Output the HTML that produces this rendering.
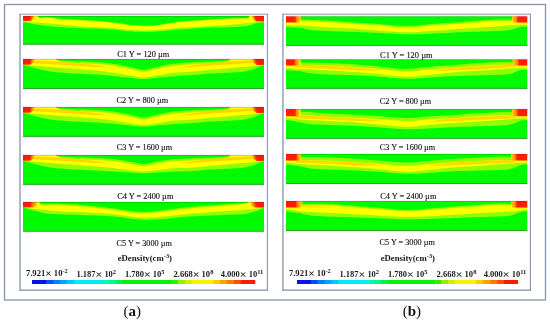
<!DOCTYPE html>
<html><head><meta charset="utf-8"><style>
html,body{margin:0;padding:0;background:#fff;width:550px;height:323px;overflow:hidden}
svg{display:block}
.lb{font-family:"Liberation Serif",serif;font-size:8.2px;fill:#111;stroke:#111;stroke-width:0.12px;text-anchor:middle}
.cb{font-family:"Liberation Serif",serif;font-size:8.6px;font-weight:bold;fill:#1a1a1a}
.sup{font-size:6px}
.x{font-weight:normal;font-size:11px;stroke:#1a1a1a;stroke-width:0.15px}
.ed{font-family:"Liberation Serif",serif;font-size:8.4px;font-weight:bold;fill:#1a1a1a;text-anchor:middle}
.ab{font-family:"Liberation Serif",serif;font-size:15px;fill:#111;text-anchor:middle}
</style></head><body>
<svg width="550" height="323" viewBox="0 0 550 323">
<defs><filter id="bl" x="-5%" y="-20%" width="110%" height="140%"><feGaussianBlur stdDeviation="0.55"/></filter></defs>
<rect x="4.5" y="4.5" width="541" height="295.5" fill="none" stroke="#8795ab" stroke-width="1.3"/>
<line x1="20.05" y1="13.7" x2="20.05" y2="290.70000000000005" stroke="#9ba7bd" stroke-width="1.6"/><line x1="19.55" y1="14.2" x2="267.95" y2="14.2" stroke="#8c98ae" stroke-width="1.0"/><line x1="267.45" y1="13.7" x2="267.45" y2="290.70000000000005" stroke="#8f9cb3" stroke-width="1.2"/><line x1="19.25" y1="290.1" x2="268.05" y2="290.1" stroke="#8190aa" stroke-width="1.3"/>
<line x1="282.95" y1="13.7" x2="282.95" y2="290.70000000000005" stroke="#9ba7bd" stroke-width="1.6"/><line x1="282.45" y1="14.2" x2="530.9" y2="14.2" stroke="#8c98ae" stroke-width="1.0"/><line x1="530.4" y1="13.7" x2="530.4" y2="290.70000000000005" stroke="#8f9cb3" stroke-width="1.2"/><line x1="282.15" y1="290.1" x2="531.0" y2="290.1" stroke="#8190aa" stroke-width="1.3"/>
<clipPath id="c0"><rect x="23" y="16" width="241.00" height="28.80"/></clipPath>
<g clip-path="url(#c0)"><g filter="url(#bl)">
<rect x="20" y="13" width="247.00" height="34.80" fill="#00fa00"/>
<polygon points="20.00,13.00 20.21,13.00 20.41,13.00 20.69,13.00 21.15,13.00 21.89,13.00 23.00,13.00 24.71,13.00 26.98,13.00 29.53,13.00 32.07,13.00 34.33,13.00 36.00,13.00 36.98,13.52 37.46,14.27 37.66,15.14 37.76,16.01 37.97,16.77 38.50,17.30 39.32,17.58 40.28,17.68 41.34,17.67 42.50,17.60 43.73,17.53 45.00,17.52 46.41,17.55 48.00,17.57 49.66,17.59 51.28,17.62 52.76,17.67 54.00,17.74 54.75,17.83 55.04,17.94 55.19,18.07 55.52,18.21 56.35,18.37 58.00,18.53 60.65,18.70 64.07,18.88 68.00,19.08 72.15,19.28 76.24,19.49 80.00,19.70 83.51,19.92 87.00,20.15 90.44,20.39 93.78,20.62 96.98,20.86 100.00,21.10 102.79,21.32 105.37,21.54 107.81,21.75 110.19,21.97 112.56,22.22 115.00,22.50 117.50,22.83 120.00,23.22 122.50,23.62 125.00,24.03 127.50,24.39 130.00,24.70 132.56,24.95 135.19,25.17 137.81,25.36 140.37,25.51 142.79,25.63 145.00,25.70 146.96,25.73 148.70,25.71 150.31,25.66 151.85,25.57 153.39,25.45 155.00,25.30 156.61,25.12 158.15,24.91 159.69,24.67 161.30,24.40 163.04,24.11 165.00,23.80 167.09,23.46 169.26,23.07 171.56,22.67 174.07,22.26 176.86,21.86 180.00,21.50 183.76,21.16 188.15,20.82 192.81,20.50 197.41,20.20 201.59,19.93 205.00,19.70 207.48,19.52 209.26,19.38 210.62,19.28 211.85,19.19 213.22,19.10 215.00,19.00 217.27,18.88 219.81,18.76 222.50,18.63 225.19,18.52 227.73,18.41 230.00,18.31 231.97,18.23 233.76,18.17 235.41,18.11 236.96,18.05 238.48,18.00 240.00,17.95 241.58,17.95 243.19,18.01 244.76,18.08 246.22,18.08 247.49,17.96 248.50,17.66 249.05,17.09 249.16,16.26 249.07,15.31 249.07,14.37 249.39,13.56 250.30,13.00 252.02,13.00 254.38,13.00 257.08,13.00 259.79,13.00 262.20,13.00 264.00,13.00 265.15,13.00 265.90,13.00 266.36,13.00 266.62,13.00 266.80,13.00 267.00,13.00 267.00,22.20 266.74,22.18 266.44,22.15 266.06,22.11 265.56,22.10 264.88,22.12 264.00,22.20 262.86,22.34 261.48,22.51 259.94,22.73 258.30,22.99 256.63,23.28 255.00,23.60 253.51,23.99 252.11,24.47 250.69,24.98 249.11,25.48 247.26,25.93 245.00,26.30 242.25,26.57 239.07,26.78 235.62,26.94 232.04,27.07 228.45,27.18 225.00,27.30 221.72,27.40 218.52,27.46 215.31,27.51 212.04,27.56 208.62,27.65 205.00,27.80 201.06,28.01 196.85,28.28 192.50,28.57 188.15,28.89 183.94,29.20 180.00,29.50 176.32,29.80 172.78,30.11 169.38,30.42 166.11,30.71 162.99,30.98 160.00,31.20 157.21,31.38 154.63,31.52 152.19,31.63 149.81,31.71 147.44,31.77 145.00,31.80 142.50,31.81 140.00,31.79 137.50,31.74 135.00,31.66 132.50,31.55 130.00,31.40 127.50,31.20 125.00,30.93 122.50,30.64 120.00,30.33 117.50,30.05 115.00,29.80 112.56,29.59 110.19,29.41 107.81,29.24 105.37,29.08 102.79,28.94 100.00,28.80 96.96,28.68 93.70,28.59 90.31,28.51 86.85,28.42 83.39,28.32 80.00,28.20 76.55,28.04 72.96,27.86 69.38,27.67 65.93,27.47 62.75,27.28 60.00,27.10 57.81,26.95 56.11,26.82 54.69,26.69 53.33,26.56 51.84,26.40 50.00,26.20 47.75,25.96 45.26,25.69 42.62,25.39 39.96,25.08 37.38,24.75 35.00,24.40 32.72,24.01 30.44,23.56 28.25,23.09 26.22,22.64 24.44,22.27 23.00,22.00 21.94,21.86 21.22,21.82 20.75,21.85 20.44,21.91 20.22,21.97 20.00,22.00" fill="#90ff00"/>
<polygon points="20.00,13.00 20.21,13.00 20.41,13.00 20.69,13.00 21.15,13.00 21.89,13.00 23.00,13.00 24.71,13.00 26.98,13.00 29.53,13.00 32.07,13.00 34.33,13.00 36.00,13.00 36.98,13.54 37.46,14.32 37.66,15.23 37.76,16.14 37.97,16.94 38.50,17.50 39.32,17.79 40.28,17.91 41.34,17.91 42.50,17.86 43.73,17.80 45.00,17.80 46.41,17.84 48.00,17.87 49.66,17.90 51.28,17.94 52.76,18.00 54.00,18.10 54.75,18.24 55.04,18.40 55.19,18.59 55.52,18.80 56.35,19.00 58.00,19.20 60.65,19.39 64.07,19.59 68.00,19.78 72.15,19.98 76.24,20.19 80.00,20.40 83.51,20.62 87.00,20.85 90.44,21.09 93.78,21.33 96.98,21.56 100.00,21.80 102.79,22.02 105.37,22.24 107.81,22.45 110.19,22.67 112.56,22.92 115.00,23.20 117.50,23.53 120.00,23.92 122.50,24.32 125.00,24.73 127.50,25.09 130.00,25.40 132.56,25.65 135.19,25.87 137.81,26.06 140.37,26.21 142.79,26.33 145.00,26.40 146.96,26.43 148.70,26.41 150.31,26.36 151.85,26.27 153.39,26.15 155.00,26.00 156.61,25.82 158.15,25.61 159.69,25.37 161.30,25.10 163.04,24.81 165.00,24.50 167.09,24.16 169.26,23.77 171.56,23.37 174.07,22.96 176.86,22.56 180.00,22.20 183.76,21.86 188.15,21.52 192.81,21.20 197.41,20.90 201.59,20.63 205.00,20.40 207.48,20.22 209.26,20.09 210.62,19.99 211.85,19.90 213.22,19.81 215.00,19.70 217.27,19.57 219.81,19.43 222.50,19.29 225.19,19.15 227.73,19.02 230.00,18.90 231.97,18.80 233.76,18.71 235.41,18.62 236.96,18.55 238.48,18.47 240.00,18.40 241.58,18.38 243.19,18.43 244.76,18.48 246.22,18.47 247.49,18.33 248.50,18.00 249.05,17.38 249.16,16.49 249.07,15.47 249.07,14.47 249.39,13.60 250.30,13.00 252.02,13.00 254.38,13.00 257.08,13.00 259.79,13.00 262.20,13.00 264.00,13.00 265.15,13.00 265.90,13.00 266.36,13.00 266.62,13.00 266.80,13.00 267.00,13.00 267.00,21.40 266.74,21.39 266.44,21.37 266.06,21.35 265.56,21.34 264.88,21.35 264.00,21.40 262.86,21.48 261.48,21.60 259.94,21.74 258.30,21.89 256.63,22.05 255.00,22.20 253.45,22.35 251.93,22.50 250.38,22.66 248.74,22.82 246.97,23.00 245.00,23.20 242.91,23.42 240.74,23.66 238.44,23.91 235.93,24.17 233.14,24.44 230.00,24.70 226.41,24.96 222.41,25.23 218.12,25.50 213.70,25.77 209.28,26.04 205.00,26.30 200.78,26.55 196.48,26.80 192.19,27.04 187.96,27.29 183.88,27.54 180.00,27.80 176.32,28.08 172.78,28.38 169.38,28.68 166.11,28.98 162.99,29.25 160.00,29.50 157.21,29.73 154.63,29.95 152.19,30.15 149.81,30.32 147.44,30.44 145.00,30.50 142.50,30.49 140.00,30.43 137.50,30.31 135.00,30.16 132.50,29.99 130.00,29.80 127.50,29.58 125.00,29.31 122.50,29.01 120.00,28.71 117.50,28.44 115.00,28.20 112.56,28.01 110.19,27.86 107.81,27.72 105.37,27.59 102.79,27.45 100.00,27.30 96.96,27.14 93.70,26.97 90.31,26.81 86.85,26.63 83.39,26.43 80.00,26.20 76.55,25.93 72.96,25.62 69.38,25.29 65.93,24.96 62.75,24.66 60.00,24.40 57.81,24.20 56.11,24.04 54.69,23.90 53.33,23.77 51.84,23.65 50.00,23.50 47.75,23.34 45.26,23.17 42.62,23.01 39.96,22.84 37.38,22.67 35.00,22.50 32.72,22.32 30.44,22.13 28.25,21.94 26.22,21.76 24.44,21.61 23.00,21.50 21.94,21.44 21.22,21.43 20.75,21.44 20.44,21.46 20.22,21.49 20.00,21.50" fill="#ffff00"/>
<linearGradient id="gl0" gradientUnits="userSpaceOnUse" x1="30.70" y1="0" x2="35.00" y2="0"><stop offset="0" stop-color="#ff4a00"/><stop offset="0.5" stop-color="#ff9a00"/><stop offset="1" stop-color="#ffd800"/></linearGradient>
<linearGradient id="gr0" gradientUnits="userSpaceOnUse" x1="255.00" y1="0" x2="251.50" y2="0"><stop offset="0" stop-color="#ff4a00"/><stop offset="0.5" stop-color="#ff9a00"/><stop offset="1" stop-color="#ffd800"/></linearGradient>
<polygon points="20.00,13.00 35.00,13.00 33.50,18.50 30.50,21.00 20.00,21.00" fill="url(#gl0)"/>
<polygon points="251.50,13.00 267.00,13.00 267.00,21.40 256.00,21.40 253.00,18.50" fill="url(#gr0)"/>
<polygon points="20.00,13.00 31.70,13.00 30.30,18.50 28.70,20.60 20.00,20.60" fill="#ff1a00"/>
<polygon points="254.00,13.00 267.00,13.00 267.00,21.00 257.00,21.00 255.50,18.50" fill="#ff1a00"/>
</g></g>
<rect x="23" y="43.80" width="241.00" height="1.0" fill="#3c8c3c" opacity="0.75"/>
<rect x="23" y="44.80" width="241.00" height="0.8" fill="#f0dcf0" opacity="0.6"/>
<rect x="23" y="16.00" width="241.00" height="0.9" fill="#000" opacity="0.14"/>
<rect x="23" y="15.10" width="241.00" height="0.9" fill="#f4e6f4" opacity="0.7"/>
<clipPath id="c1"><rect x="23" y="59" width="241.00" height="30.00"/></clipPath>
<g clip-path="url(#c1)"><g filter="url(#bl)">
<rect x="20" y="56" width="247.00" height="36.00" fill="#00fa00"/>
<polygon points="20.00,56.00 20.01,56.00 19.78,56.00 19.62,56.00 19.89,56.00 20.90,56.00 23.00,56.00 26.73,56.00 31.93,56.00 37.88,56.00 43.85,56.00 49.13,56.00 53.00,56.00 55.14,56.47 56.07,57.14 56.31,57.93 56.37,58.73 56.76,59.45 58.00,60.00 60.05,60.35 62.48,60.58 65.25,60.73 68.30,60.84 71.56,60.95 75.00,61.10 78.82,61.28 83.11,61.44 87.62,61.61 92.11,61.78 96.32,61.98 100.00,62.20 103.08,62.45 105.74,62.71 108.12,62.99 110.37,63.29 112.62,63.63 115.00,64.00 117.52,64.42 120.06,64.89 122.59,65.38 125.11,65.89 127.59,66.40 130.00,66.90 132.34,67.45 134.61,68.08 136.84,68.71 139.06,69.26 141.27,69.65 143.50,69.80 145.73,69.65 147.94,69.26 150.16,68.71 152.39,68.08 154.66,67.45 157.00,66.90 159.38,66.40 161.78,65.89 164.22,65.37 166.72,64.87 169.31,64.41 172.00,64.00 174.79,63.65 177.67,63.35 180.62,63.08 183.67,62.84 186.79,62.62 190.00,62.40 193.36,62.20 196.89,62.03 200.50,61.88 204.11,61.73 207.64,61.58 211.00,61.40 214.35,61.23 217.78,61.09 221.12,60.94 224.22,60.75 226.90,60.48 229.00,60.10 230.03,59.53 230.04,58.79 229.62,57.97 229.41,57.17 230.00,56.48 232.00,56.00 235.99,56.00 241.59,56.00 248.00,56.00 254.41,56.00 260.01,56.00 264.00,56.00 266.21,56.00 267.26,56.00 267.50,56.00 267.30,56.00 267.01,56.00 267.00,56.00 267.00,65.00 266.74,64.96 266.44,64.87 266.06,64.78 265.56,64.73 264.88,64.79 264.00,65.00 262.86,65.40 261.48,65.96 259.94,66.62 258.30,67.33 256.63,68.00 255.00,68.60 253.46,69.13 251.96,69.65 250.44,70.14 248.81,70.61 247.03,71.03 245.00,71.40 242.70,71.71 240.19,71.96 237.50,72.17 234.70,72.35 231.85,72.52 229.00,72.70 226.15,72.87 223.26,73.00 220.31,73.13 217.30,73.26 214.20,73.41 211.00,73.60 207.64,73.83 204.11,74.10 200.50,74.38 196.89,74.67 193.36,74.95 190.00,75.20 186.79,75.42 183.67,75.62 180.62,75.81 177.67,76.00 174.79,76.19 172.00,76.40 169.31,76.62 166.72,76.86 164.22,77.10 161.78,77.34 159.38,77.58 157.00,77.80 154.66,78.04 152.39,78.30 150.16,78.56 147.94,78.79 145.73,78.94 143.50,79.00 141.27,78.94 139.06,78.79 136.84,78.58 134.61,78.32 132.34,78.05 130.00,77.80 127.59,77.55 125.11,77.29 122.59,77.01 120.06,76.73 117.52,76.46 115.00,76.20 112.56,75.95 110.19,75.70 107.81,75.46 105.37,75.23 102.79,75.01 100.00,74.80 96.96,74.61 93.70,74.44 90.31,74.29 86.85,74.13 83.39,73.97 80.00,73.80 76.55,73.61 72.96,73.41 69.38,73.21 65.93,73.01 62.75,72.80 60.00,72.60 57.75,72.41 55.93,72.23 54.38,72.05 52.96,71.86 51.55,71.65 50.00,71.40 48.33,71.12 46.67,70.81 45.00,70.49 43.33,70.14 41.67,69.78 40.00,69.40 38.30,68.99 36.56,68.55 34.81,68.09 33.11,67.63 31.49,67.19 30.00,66.80 28.61,66.43 27.30,66.07 26.06,65.74 24.93,65.44 23.90,65.19 23.00,65.00 22.23,64.90 21.59,64.87 21.06,64.89 20.63,64.93 20.28,64.98 20.00,65.00" fill="#90ff00"/>
<polygon points="20.00,56.00 20.01,56.00 19.78,56.00 19.62,56.00 19.89,56.00 20.90,56.00 23.00,56.00 26.73,56.00 31.93,56.00 37.88,56.00 43.85,56.00 49.13,56.00 53.00,56.00 55.14,56.58 56.07,57.40 56.31,58.37 56.37,59.36 56.76,60.28 58.00,61.00 60.05,61.53 62.48,61.95 65.25,62.29 68.30,62.58 71.56,62.84 75.00,63.10 78.82,63.33 83.11,63.51 87.62,63.67 92.11,63.82 96.32,63.99 100.00,64.20 103.08,64.45 105.74,64.71 108.12,64.99 110.37,65.29 112.62,65.63 115.00,66.00 117.52,66.42 120.06,66.89 122.59,67.38 125.11,67.89 127.59,68.40 130.00,68.90 132.34,69.45 134.61,70.08 136.84,70.71 139.06,71.26 141.27,71.65 143.50,71.80 145.73,71.65 147.94,71.26 150.16,70.71 152.39,70.08 154.66,69.45 157.00,68.90 159.38,68.40 161.78,67.89 164.22,67.37 166.72,66.87 169.31,66.41 172.00,66.00 174.79,65.65 177.67,65.35 180.62,65.08 183.67,64.84 186.79,64.62 190.00,64.40 193.36,64.21 196.89,64.06 200.50,63.93 204.11,63.80 207.64,63.63 211.00,63.40 214.35,63.15 217.78,62.89 221.12,62.60 224.22,62.25 226.90,61.82 229.00,61.27 230.03,60.51 230.04,59.55 229.62,58.50 229.41,57.48 230.00,56.61 232.00,56.00 235.99,56.00 241.59,56.00 248.00,56.00 254.41,56.00 260.01,56.00 264.00,56.00 266.21,56.00 267.26,56.00 267.50,56.00 267.30,56.00 267.01,56.00 267.00,56.00 267.00,64.80 266.80,64.78 266.63,64.74 266.38,64.70 265.93,64.68 265.17,64.71 264.00,64.80 262.38,64.97 260.41,65.21 258.12,65.49 255.59,65.79 252.87,66.10 250.00,66.40 246.87,66.69 243.41,66.99 239.75,67.30 236.04,67.61 232.41,67.91 229.00,68.20 225.86,68.47 222.89,68.73 220.00,68.99 217.11,69.24 214.14,69.51 211.00,69.80 207.64,70.12 204.11,70.47 200.50,70.83 196.89,71.18 193.36,71.51 190.00,71.80 186.79,72.03 183.67,72.21 180.62,72.37 177.67,72.53 174.79,72.73 172.00,73.00 169.31,73.35 166.72,73.76 164.22,74.21 161.78,74.67 159.38,75.11 157.00,75.50 154.66,75.88 152.39,76.29 150.16,76.67 147.94,76.99 145.73,77.22 143.50,77.30 141.27,77.22 139.06,76.99 136.84,76.67 134.61,76.29 132.34,75.88 130.00,75.50 127.59,75.12 125.11,74.70 122.59,74.27 120.06,73.83 117.52,73.40 115.00,73.00 112.56,72.62 110.19,72.26 107.81,71.90 105.37,71.56 102.79,71.22 100.00,70.90 96.96,70.59 93.70,70.29 90.31,70.01 86.85,69.73 83.39,69.46 80.00,69.20 76.67,68.95 73.33,68.71 70.00,68.49 66.67,68.26 63.33,68.04 60.00,67.80 56.63,67.56 53.22,67.32 49.81,67.08 46.44,66.83 43.16,66.57 40.00,66.30 36.83,66.00 33.59,65.66 30.44,65.31 27.52,64.98 24.99,64.70 23.00,64.50 21.66,64.40 20.85,64.37 20.44,64.39 20.26,64.43 20.16,64.48 20.00,64.50" fill="#ffff00"/>
<polygon points="30.00,60.20 32.18,60.33 35.19,60.51 38.75,60.72 42.59,60.94 46.44,61.18 50.00,61.40 53.31,61.61 56.59,61.82 59.88,62.03 63.19,62.26 66.55,62.49 70.00,62.75 73.60,63.02 77.33,63.30 81.12,63.60 84.89,63.91 88.54,64.24 92.00,64.60 95.44,65.02 98.96,65.51 102.38,66.02 105.48,66.50 108.09,66.91 110.00,67.20 110.00,67.20 108.09,67.14 105.48,67.07 102.38,66.98 98.96,66.88 95.44,66.75 92.00,66.60 88.54,66.41 84.89,66.19 81.12,65.95 77.33,65.71 73.60,65.47 70.00,65.25 66.55,65.06 63.19,64.89 59.88,64.73 56.59,64.56 53.31,64.39 50.00,64.20 46.44,63.97 42.59,63.71 38.75,63.43 35.19,63.18 32.18,62.96 30.00,62.80" fill="#ffcc00" opacity="0.8"/>
<polygon points="178.00,67.20 179.81,66.93 182.30,66.56 185.25,66.13 188.48,65.66 191.80,65.21 195.00,64.80 198.10,64.44 201.26,64.08 204.50,63.74 207.85,63.41 211.34,63.08 215.00,62.75 218.97,62.42 223.26,62.08 227.69,61.75 232.07,61.44 236.24,61.15 240.00,60.90 243.49,60.68 246.89,60.50 250.06,60.33 252.89,60.20 255.24,60.09 257.00,60.00 257.00,62.60 255.24,62.71 252.89,62.87 250.06,63.05 246.89,63.26 243.49,63.48 240.00,63.70 236.24,63.93 232.07,64.18 227.69,64.45 223.26,64.72 218.97,64.99 215.00,65.25 211.34,65.52 207.85,65.81 204.50,66.10 201.26,66.37 198.10,66.61 195.00,66.80 191.80,66.94 188.48,67.03 185.25,67.10 182.30,67.14 179.81,67.17 178.00,67.20" fill="#ffcc00" opacity="0.8"/>
<linearGradient id="gl1" gradientUnits="userSpaceOnUse" x1="30.50" y1="0" x2="35.00" y2="0"><stop offset="0" stop-color="#ff4a00"/><stop offset="0.5" stop-color="#ff9a00"/><stop offset="1" stop-color="#ffd800"/></linearGradient>
<linearGradient id="gr1" gradientUnits="userSpaceOnUse" x1="255.60" y1="0" x2="251.50" y2="0"><stop offset="0" stop-color="#ff4a00"/><stop offset="0.5" stop-color="#ff9a00"/><stop offset="1" stop-color="#ffd800"/></linearGradient>
<polygon points="20.00,56.00 35.00,56.00 33.50,62.30 30.00,64.80 20.00,64.80" fill="url(#gl1)"/>
<polygon points="251.50,56.00 267.00,56.00 267.00,64.90 256.60,64.90 253.00,62.00" fill="url(#gr1)"/>
<polygon points="20.00,56.00 31.50,56.00 30.50,62.00 29.00,64.30 20.00,64.30" fill="#ff1a00"/>
<polygon points="254.60,56.00 267.00,56.00 267.00,64.40 257.80,64.40 256.20,61.60" fill="#ff1a00"/>
</g></g>
<rect x="23" y="88.00" width="241.00" height="1.0" fill="#3c8c3c" opacity="0.75"/>
<rect x="23" y="89.00" width="241.00" height="0.8" fill="#f0dcf0" opacity="0.6"/>
<rect x="23" y="59.00" width="241.00" height="0.9" fill="#000" opacity="0.14"/>
<rect x="23" y="58.10" width="241.00" height="0.9" fill="#f4e6f4" opacity="0.7"/>
<clipPath id="c2"><rect x="23" y="107" width="241.00" height="29.90"/></clipPath>
<g clip-path="url(#c2)"><g filter="url(#bl)">
<rect x="20" y="104" width="247.00" height="35.90" fill="#00fa00"/>
<polygon points="20.00,104.00 20.01,104.00 19.78,104.00 19.62,104.00 19.89,104.00 20.90,104.00 23.00,104.00 26.73,104.00 31.93,104.00 37.88,104.00 43.85,104.00 49.13,104.00 53.00,104.00 55.14,104.47 56.07,105.14 56.31,105.93 56.37,106.73 56.76,107.45 58.00,108.00 60.05,108.35 62.48,108.58 65.25,108.73 68.30,108.84 71.56,108.95 75.00,109.10 78.82,109.28 83.11,109.44 87.62,109.61 92.11,109.78 96.32,109.97 100.00,110.19 103.08,110.42 105.74,110.66 108.12,110.91 110.37,111.19 112.62,111.51 115.00,111.85 117.52,112.25 120.06,112.69 122.59,113.17 125.11,113.66 127.59,114.15 130.00,114.62 132.34,115.15 134.61,115.75 136.84,116.36 139.06,116.88 141.27,117.26 143.50,117.40 145.73,117.26 147.94,116.88 150.16,116.36 152.39,115.75 154.66,115.15 157.00,114.62 159.38,114.14 161.78,113.65 164.22,113.15 166.72,112.68 169.31,112.24 172.00,111.85 174.79,111.53 177.67,111.25 180.62,111.02 183.67,110.80 186.79,110.60 190.00,110.40 193.36,110.21 196.89,110.04 200.50,109.89 204.11,109.74 207.64,109.58 211.00,109.40 214.35,109.23 217.78,109.09 221.12,108.94 224.22,108.75 226.90,108.48 229.00,108.10 230.03,107.53 230.04,106.79 229.62,105.97 229.41,105.17 230.00,104.48 232.00,104.00 235.99,104.00 241.59,104.00 248.00,104.00 254.41,104.00 260.01,104.00 264.00,104.00 266.21,104.00 267.26,104.00 267.50,104.00 267.30,104.00 267.01,104.00 267.00,104.00 267.00,113.00 266.74,112.96 266.44,112.87 266.06,112.78 265.56,112.73 264.88,112.79 264.00,113.00 262.86,113.40 261.48,113.96 259.94,114.62 258.30,115.33 256.63,116.00 255.00,116.60 253.46,117.13 251.96,117.65 250.44,118.14 248.81,118.61 247.03,119.03 245.00,119.40 242.70,119.71 240.19,119.96 237.50,120.17 234.70,120.35 231.85,120.52 229.00,120.70 226.15,120.87 223.26,121.00 220.31,121.13 217.30,121.26 214.20,121.41 211.00,121.60 207.64,121.83 204.11,122.10 200.50,122.39 196.89,122.68 193.36,122.96 190.00,123.20 186.79,123.40 183.67,123.58 180.62,123.75 177.67,123.91 174.79,124.07 172.00,124.25 169.31,124.45 166.72,124.67 164.22,124.88 161.78,125.10 159.38,125.32 157.00,125.52 154.66,125.74 152.39,125.97 150.16,126.21 147.94,126.41 145.73,126.55 143.50,126.60 141.27,126.55 139.06,126.41 136.84,126.22 134.61,125.99 132.34,125.75 130.00,125.52 127.59,125.30 125.11,125.05 122.59,124.80 120.06,124.54 117.52,124.29 115.00,124.05 112.56,123.83 110.19,123.61 107.81,123.39 105.37,123.18 102.79,122.98 100.00,122.79 96.96,122.61 93.70,122.44 90.31,122.29 86.85,122.13 83.39,121.97 80.00,121.80 76.55,121.61 72.96,121.42 69.38,121.21 65.93,121.01 62.75,120.80 60.00,120.60 57.75,120.41 55.93,120.23 54.38,120.05 52.96,119.86 51.55,119.65 50.00,119.40 48.33,119.12 46.67,118.81 45.00,118.49 43.33,118.14 41.67,117.78 40.00,117.40 38.30,116.99 36.56,116.55 34.81,116.09 33.11,115.63 31.49,115.19 30.00,114.80 28.61,114.43 27.30,114.07 26.06,113.74 24.93,113.44 23.90,113.19 23.00,113.00 22.23,112.90 21.59,112.87 21.06,112.89 20.63,112.93 20.28,112.98 20.00,113.00" fill="#90ff00"/>
<polygon points="20.00,104.00 20.01,104.00 19.78,104.00 19.62,104.00 19.89,104.00 20.90,104.00 23.00,104.00 26.73,104.00 31.93,104.00 37.88,104.00 43.85,104.00 49.13,104.00 53.00,104.00 55.14,104.58 56.07,105.40 56.31,106.37 56.37,107.36 56.76,108.28 58.00,109.00 60.05,109.53 62.48,109.95 65.25,110.29 68.30,110.58 71.56,110.84 75.00,111.10 78.82,111.33 83.11,111.52 87.62,111.67 92.11,111.82 96.32,111.98 100.00,112.19 103.08,112.42 105.74,112.66 108.12,112.91 110.37,113.19 112.62,113.51 115.00,113.85 117.52,114.25 120.06,114.69 122.59,115.17 125.11,115.66 127.59,116.15 130.00,116.62 132.34,117.15 134.61,117.75 136.84,118.36 139.06,118.88 141.27,119.26 143.50,119.40 145.73,119.26 147.94,118.88 150.16,118.36 152.39,117.75 154.66,117.15 157.00,116.62 159.38,116.14 161.78,115.65 164.22,115.15 166.72,114.68 169.31,114.24 172.00,113.85 174.79,113.53 177.67,113.25 180.62,113.02 183.67,112.80 186.79,112.60 190.00,112.40 193.36,112.22 196.89,112.08 200.50,111.94 204.11,111.80 207.64,111.63 211.00,111.40 214.35,111.15 217.78,110.89 221.12,110.60 224.22,110.25 226.90,109.82 229.00,109.27 230.03,108.51 230.04,107.55 229.62,106.50 229.41,105.48 230.00,104.61 232.00,104.00 235.99,104.00 241.59,104.00 248.00,104.00 254.41,104.00 260.01,104.00 264.00,104.00 266.21,104.00 267.26,104.00 267.50,104.00 267.30,104.00 267.01,104.00 267.00,104.00 267.00,112.80 266.80,112.78 266.63,112.74 266.38,112.70 265.93,112.68 265.17,112.71 264.00,112.80 262.38,112.97 260.41,113.21 258.12,113.49 255.59,113.79 252.87,114.10 250.00,114.40 246.87,114.69 243.41,114.99 239.75,115.30 236.04,115.61 232.41,115.91 229.00,116.20 225.86,116.47 222.89,116.73 220.00,116.99 217.11,117.24 214.14,117.51 211.00,117.80 207.64,118.12 204.11,118.47 200.50,118.83 196.89,119.19 193.36,119.52 190.00,119.80 186.79,120.02 183.67,120.17 180.62,120.30 177.67,120.44 174.79,120.61 172.00,120.85 169.31,121.18 166.72,121.57 164.22,122.00 161.78,122.43 159.38,122.85 157.00,123.22 154.66,123.58 152.39,123.96 150.16,124.31 147.94,124.61 145.73,124.82 143.50,124.90 141.27,124.82 139.06,124.61 136.84,124.31 134.61,123.96 132.34,123.58 130.00,123.22 127.59,122.86 125.11,122.47 122.59,122.05 120.06,121.64 117.52,121.23 115.00,120.85 112.56,120.50 110.19,120.16 107.81,119.83 105.37,119.51 102.79,119.19 100.00,118.89 96.96,118.59 93.70,118.29 90.31,118.01 86.85,117.73 83.39,117.46 80.00,117.20 76.67,116.95 73.33,116.72 70.00,116.49 66.67,116.26 63.33,116.04 60.00,115.80 56.63,115.56 53.22,115.32 49.81,115.08 46.44,114.83 43.16,114.57 40.00,114.30 36.83,114.00 33.59,113.66 30.44,113.31 27.52,112.98 24.99,112.70 23.00,112.50 21.66,112.40 20.85,112.37 20.44,112.39 20.26,112.43 20.16,112.48 20.00,112.50" fill="#ffff00"/>
<polygon points="30.00,108.20 32.18,108.33 35.19,108.51 38.75,108.72 42.59,108.94 46.44,109.18 50.00,109.40 53.31,109.61 56.59,109.82 59.88,110.03 63.19,110.26 66.55,110.49 70.00,110.75 73.60,111.02 77.33,111.30 81.12,111.60 84.89,111.91 88.54,112.24 92.00,112.60 95.44,113.02 98.96,113.51 102.38,114.02 105.48,114.50 108.09,114.91 110.00,115.20 110.00,115.20 108.09,115.14 105.48,115.07 102.38,114.98 98.96,114.88 95.44,114.75 92.00,114.60 88.54,114.41 84.89,114.19 81.12,113.95 77.33,113.71 73.60,113.47 70.00,113.25 66.55,113.06 63.19,112.89 59.88,112.73 56.59,112.56 53.31,112.39 50.00,112.20 46.44,111.97 42.59,111.71 38.75,111.43 35.19,111.18 32.18,110.96 30.00,110.80" fill="#ffcc00" opacity="0.8"/>
<polygon points="178.00,115.20 179.81,114.93 182.30,114.56 185.25,114.13 188.48,113.66 191.80,113.21 195.00,112.80 198.10,112.44 201.26,112.08 204.50,111.74 207.85,111.41 211.34,111.08 215.00,110.75 218.97,110.42 223.26,110.08 227.69,109.75 232.07,109.44 236.24,109.15 240.00,108.90 243.49,108.68 246.89,108.50 250.06,108.33 252.89,108.20 255.24,108.09 257.00,108.00 257.00,110.60 255.24,110.71 252.89,110.87 250.06,111.05 246.89,111.26 243.49,111.48 240.00,111.70 236.24,111.93 232.07,112.18 227.69,112.45 223.26,112.72 218.97,112.99 215.00,113.25 211.34,113.52 207.85,113.81 204.50,114.10 201.26,114.37 198.10,114.61 195.00,114.80 191.80,114.94 188.48,115.03 185.25,115.10 182.30,115.14 179.81,115.17 178.00,115.20" fill="#ffcc00" opacity="0.8"/>
<linearGradient id="gl2" gradientUnits="userSpaceOnUse" x1="30.50" y1="0" x2="35.00" y2="0"><stop offset="0" stop-color="#ff4a00"/><stop offset="0.5" stop-color="#ff9a00"/><stop offset="1" stop-color="#ffd800"/></linearGradient>
<linearGradient id="gr2" gradientUnits="userSpaceOnUse" x1="255.60" y1="0" x2="251.50" y2="0"><stop offset="0" stop-color="#ff4a00"/><stop offset="0.5" stop-color="#ff9a00"/><stop offset="1" stop-color="#ffd800"/></linearGradient>
<polygon points="20.00,104.00 35.00,104.00 33.50,110.30 30.00,112.80 20.00,112.80" fill="url(#gl2)"/>
<polygon points="251.50,104.00 267.00,104.00 267.00,112.90 256.60,112.90 253.00,110.00" fill="url(#gr2)"/>
<polygon points="20.00,104.00 31.50,104.00 30.50,110.00 29.00,112.30 20.00,112.30" fill="#ff1a00"/>
<polygon points="254.60,104.00 267.00,104.00 267.00,112.40 257.80,112.40 256.20,109.60" fill="#ff1a00"/>
</g></g>
<rect x="23" y="135.90" width="241.00" height="1.0" fill="#3c8c3c" opacity="0.75"/>
<rect x="23" y="136.90" width="241.00" height="0.8" fill="#f0dcf0" opacity="0.6"/>
<rect x="23" y="107.00" width="241.00" height="0.9" fill="#000" opacity="0.14"/>
<rect x="23" y="106.10" width="241.00" height="0.9" fill="#f4e6f4" opacity="0.7"/>
<clipPath id="c3"><rect x="23" y="155" width="241.00" height="29.90"/></clipPath>
<g clip-path="url(#c3)"><g filter="url(#bl)">
<rect x="20" y="152" width="247.00" height="35.90" fill="#00fa00"/>
<polygon points="20.00,152.00 20.01,152.00 19.78,152.00 19.62,152.00 19.89,152.00 20.90,152.00 23.00,152.00 26.73,152.00 31.93,152.00 37.88,152.00 43.85,152.00 49.13,152.00 53.00,152.00 55.14,152.47 56.07,153.14 56.31,153.93 56.37,154.73 56.76,155.45 58.00,156.00 60.05,156.35 62.48,156.58 65.25,156.74 68.30,156.85 71.56,156.95 75.00,157.10 78.82,157.27 83.11,157.45 87.62,157.61 92.11,157.78 96.32,157.96 100.00,158.14 103.08,158.32 105.74,158.49 108.12,158.66 110.37,158.85 112.62,159.07 115.00,159.34 117.52,159.66 120.06,160.02 122.59,160.42 125.11,160.83 127.59,161.24 130.00,161.64 132.34,162.08 134.61,162.60 136.84,163.11 139.06,163.56 141.27,163.88 143.50,164.00 145.73,163.88 147.94,163.56 150.16,163.11 152.39,162.60 154.66,162.08 157.00,161.64 159.38,161.24 161.78,160.82 164.22,160.40 166.72,160.00 169.31,159.64 172.00,159.34 174.79,159.11 177.67,158.93 180.62,158.79 183.67,158.67 186.79,158.54 190.00,158.40 193.36,158.24 196.89,158.08 200.50,157.92 204.11,157.76 207.64,157.58 211.00,157.40 214.35,157.23 217.78,157.09 221.12,156.94 224.22,156.75 226.90,156.48 229.00,156.10 230.03,155.53 230.04,154.79 229.62,153.97 229.41,153.17 230.00,152.48 232.00,152.00 235.99,152.00 241.59,152.00 248.00,152.00 254.41,152.00 260.01,152.00 264.00,152.00 266.21,152.00 267.26,152.00 267.50,152.00 267.30,152.00 267.01,152.00 267.00,152.00 267.00,161.00 266.74,160.96 266.44,160.87 266.06,160.78 265.56,160.73 264.88,160.79 264.00,161.00 262.86,161.40 261.48,161.96 259.94,162.62 258.30,163.33 256.63,164.00 255.00,164.60 253.46,165.13 251.96,165.65 250.44,166.14 248.81,166.61 247.03,167.03 245.00,167.40 242.70,167.71 240.19,167.96 237.50,168.17 234.70,168.35 231.85,168.52 229.00,168.70 226.15,168.87 223.26,169.00 220.31,169.13 217.30,169.26 214.20,169.41 211.00,169.60 207.64,169.84 204.11,170.12 200.50,170.42 196.89,170.72 193.36,170.99 190.00,171.20 186.79,171.35 183.67,171.45 180.62,171.52 177.67,171.58 174.79,171.65 172.00,171.74 169.31,171.86 166.72,171.99 164.22,172.13 161.78,172.27 159.38,172.41 157.00,172.54 154.66,172.67 152.39,172.82 150.16,172.96 147.94,173.08 145.73,173.17 143.50,173.20 141.27,173.17 139.06,173.09 136.84,172.97 134.61,172.83 132.34,172.68 130.00,172.54 127.59,172.39 125.11,172.22 122.59,172.05 120.06,171.87 117.52,171.70 115.00,171.54 112.56,171.40 110.19,171.26 107.81,171.14 105.37,171.01 102.79,170.88 100.00,170.74 96.96,170.59 93.70,170.45 90.31,170.30 86.85,170.14 83.39,169.97 80.00,169.80 76.55,169.62 72.96,169.42 69.38,169.22 65.93,169.01 62.75,168.80 60.00,168.60 57.75,168.41 55.93,168.23 54.38,168.05 52.96,167.86 51.55,167.65 50.00,167.40 48.33,167.12 46.67,166.81 45.00,166.49 43.33,166.14 41.67,165.78 40.00,165.40 38.30,164.99 36.56,164.55 34.81,164.09 33.11,163.63 31.49,163.19 30.00,162.80 28.61,162.43 27.30,162.07 26.06,161.74 24.93,161.44 23.90,161.19 23.00,161.00 22.23,160.90 21.59,160.87 21.06,160.89 20.63,160.93 20.28,160.98 20.00,161.00" fill="#90ff00"/>
<polygon points="20.00,152.00 20.01,152.00 19.78,152.00 19.62,152.00 19.89,152.00 20.90,152.00 23.00,152.00 26.73,152.00 31.93,152.00 37.88,152.00 43.85,152.00 49.13,152.00 53.00,152.00 55.14,152.58 56.07,153.40 56.31,154.37 56.37,155.36 56.76,156.28 58.00,157.00 60.05,157.53 62.48,157.95 65.25,158.30 68.30,158.59 71.56,158.84 75.00,159.10 78.82,159.33 83.11,159.52 87.62,159.68 92.11,159.82 96.32,159.97 100.00,160.14 103.08,160.32 105.74,160.49 108.12,160.66 110.37,160.85 112.62,161.07 115.00,161.34 117.52,161.66 120.06,162.02 122.59,162.42 125.11,162.83 127.59,163.24 130.00,163.64 132.34,164.08 134.61,164.60 136.84,165.11 139.06,165.56 141.27,165.88 143.50,166.00 145.73,165.88 147.94,165.56 150.16,165.11 152.39,164.60 154.66,164.08 157.00,163.64 159.38,163.24 161.78,162.82 164.22,162.40 166.72,162.00 169.31,161.64 172.00,161.34 174.79,161.11 177.67,160.93 180.62,160.79 183.67,160.67 186.79,160.54 190.00,160.40 193.36,160.25 196.89,160.11 200.50,159.97 204.11,159.82 207.64,159.63 211.00,159.40 214.35,159.15 217.78,158.89 221.12,158.60 224.22,158.25 226.90,157.82 229.00,157.27 230.03,156.51 230.04,155.55 229.62,154.50 229.41,153.48 230.00,152.61 232.00,152.00 235.99,152.00 241.59,152.00 248.00,152.00 254.41,152.00 260.01,152.00 264.00,152.00 266.21,152.00 267.26,152.00 267.50,152.00 267.30,152.00 267.01,152.00 267.00,152.00 267.00,160.80 266.80,160.78 266.63,160.74 266.38,160.70 265.93,160.68 265.17,160.71 264.00,160.80 262.38,160.97 260.41,161.21 258.12,161.49 255.59,161.79 252.87,162.10 250.00,162.40 246.87,162.69 243.41,162.99 239.75,163.30 236.04,163.61 232.41,163.91 229.00,164.20 225.86,164.47 222.89,164.73 220.00,164.99 217.11,165.24 214.14,165.51 211.00,165.80 207.64,166.13 204.11,166.49 200.50,166.87 196.89,167.23 193.36,167.55 190.00,167.80 186.79,167.96 183.67,168.04 180.62,168.08 177.67,168.11 174.79,168.19 172.00,168.34 169.31,168.59 166.72,168.90 164.22,169.25 161.78,169.60 159.38,169.94 157.00,170.24 154.66,170.52 152.39,170.80 150.16,171.07 147.94,171.29 145.73,171.44 143.50,171.50 141.27,171.44 139.06,171.29 136.84,171.07 134.61,170.80 132.34,170.52 130.00,170.24 127.59,169.96 125.11,169.64 122.59,169.31 120.06,168.97 117.52,168.64 115.00,168.34 112.56,168.07 110.19,167.82 107.81,167.57 105.37,167.34 102.79,167.09 100.00,166.84 96.96,166.57 93.70,166.29 90.31,166.01 86.85,165.73 83.39,165.46 80.00,165.20 76.67,164.95 73.33,164.72 70.00,164.49 66.67,164.27 63.33,164.04 60.00,163.80 56.63,163.56 53.22,163.32 49.81,163.07 46.44,162.83 43.16,162.57 40.00,162.30 36.83,162.00 33.59,161.66 30.44,161.31 27.52,160.98 24.99,160.70 23.00,160.50 21.66,160.40 20.85,160.37 20.44,160.39 20.26,160.43 20.16,160.48 20.00,160.50" fill="#ffff00"/>
<polygon points="30.00,156.20 32.18,156.33 35.19,156.51 38.75,156.72 42.59,156.94 46.44,157.18 50.00,157.40 53.31,157.61 56.59,157.82 59.88,158.03 63.19,158.26 66.55,158.49 70.00,158.75 73.60,159.02 77.33,159.30 81.12,159.60 84.89,159.91 88.54,160.24 92.00,160.60 95.44,161.02 98.96,161.51 102.38,162.02 105.48,162.50 108.09,162.91 110.00,163.20 110.00,163.20 108.09,163.14 105.48,163.07 102.38,162.98 98.96,162.88 95.44,162.75 92.00,162.60 88.54,162.41 84.89,162.19 81.12,161.95 77.33,161.71 73.60,161.47 70.00,161.25 66.55,161.06 63.19,160.89 59.88,160.73 56.59,160.56 53.31,160.39 50.00,160.20 46.44,159.97 42.59,159.71 38.75,159.43 35.19,159.18 32.18,158.96 30.00,158.80" fill="#ffcc00" opacity="0.8"/>
<polygon points="178.00,163.20 179.81,162.93 182.30,162.56 185.25,162.13 188.48,161.66 191.80,161.21 195.00,160.80 198.10,160.44 201.26,160.08 204.50,159.74 207.85,159.41 211.34,159.08 215.00,158.75 218.97,158.42 223.26,158.08 227.69,157.75 232.07,157.44 236.24,157.15 240.00,156.90 243.49,156.68 246.89,156.50 250.06,156.33 252.89,156.20 255.24,156.09 257.00,156.00 257.00,158.60 255.24,158.71 252.89,158.87 250.06,159.05 246.89,159.26 243.49,159.48 240.00,159.70 236.24,159.93 232.07,160.18 227.69,160.45 223.26,160.72 218.97,160.99 215.00,161.25 211.34,161.52 207.85,161.81 204.50,162.10 201.26,162.37 198.10,162.61 195.00,162.80 191.80,162.94 188.48,163.03 185.25,163.10 182.30,163.14 179.81,163.17 178.00,163.20" fill="#ffcc00" opacity="0.8"/>
<linearGradient id="gl3" gradientUnits="userSpaceOnUse" x1="30.50" y1="0" x2="35.00" y2="0"><stop offset="0" stop-color="#ff4a00"/><stop offset="0.5" stop-color="#ff9a00"/><stop offset="1" stop-color="#ffd800"/></linearGradient>
<linearGradient id="gr3" gradientUnits="userSpaceOnUse" x1="255.60" y1="0" x2="251.50" y2="0"><stop offset="0" stop-color="#ff4a00"/><stop offset="0.5" stop-color="#ff9a00"/><stop offset="1" stop-color="#ffd800"/></linearGradient>
<polygon points="20.00,152.00 35.00,152.00 33.50,158.30 30.00,160.80 20.00,160.80" fill="url(#gl3)"/>
<polygon points="251.50,152.00 267.00,152.00 267.00,160.90 256.60,160.90 253.00,158.00" fill="url(#gr3)"/>
<polygon points="20.00,152.00 31.50,152.00 30.50,158.00 29.00,160.30 20.00,160.30" fill="#ff1a00"/>
<polygon points="254.60,152.00 267.00,152.00 267.00,160.40 257.80,160.40 256.20,157.60" fill="#ff1a00"/>
</g></g>
<rect x="23" y="183.90" width="241.00" height="1.0" fill="#3c8c3c" opacity="0.75"/>
<rect x="23" y="184.90" width="241.00" height="0.8" fill="#f0dcf0" opacity="0.6"/>
<rect x="23" y="155.00" width="241.00" height="0.9" fill="#000" opacity="0.14"/>
<rect x="23" y="154.10" width="241.00" height="0.9" fill="#f4e6f4" opacity="0.7"/>
<clipPath id="c4"><rect x="23" y="202" width="241.00" height="29.80"/></clipPath>
<g clip-path="url(#c4)"><g filter="url(#bl)">
<rect x="20" y="199" width="247.00" height="35.80" fill="#00fa00"/>
<polygon points="20.00,199.00 20.18,199.00 20.31,199.00 20.53,199.00 20.96,199.00 21.74,199.00 23.00,199.00 25.02,199.00 27.74,199.00 30.81,199.00 33.87,199.00 36.55,199.00 38.50,199.00 39.47,199.53 39.70,200.29 39.56,201.18 39.41,202.07 39.60,202.85 40.50,203.40 42.11,203.68 44.13,203.78 46.50,203.77 49.15,203.71 52.00,203.66 55.00,203.70 58.22,203.80 61.74,203.91 65.47,204.03 69.31,204.18 73.19,204.37 77.00,204.60 80.91,204.90 85.04,205.27 89.19,205.67 93.19,206.08 96.85,206.46 100.00,206.80 102.49,207.07 104.44,207.30 106.06,207.51 107.56,207.72 109.13,207.94 111.00,208.20 113.21,208.51 115.59,208.85 118.06,209.21 120.52,209.56 122.86,209.90 125.00,210.20 126.92,210.47 128.69,210.71 130.34,210.94 131.93,211.15 133.47,211.34 135.00,211.50 136.50,211.64 137.94,211.76 139.34,211.86 140.72,211.94 142.10,211.98 143.50,212.00 144.86,211.99 146.14,211.95 147.42,211.88 148.78,211.79 150.28,211.66 152.00,211.50 153.88,211.31 155.84,211.09 157.96,210.84 160.27,210.56 162.83,210.25 165.70,209.90 168.98,209.49 172.64,209.02 176.55,208.51 180.59,208.00 184.61,207.52 188.50,207.10 192.26,206.74 196.00,206.42 199.74,206.12 203.47,205.85 207.22,205.58 211.00,205.30 214.92,205.01 219.00,204.73 223.09,204.44 227.06,204.17 230.74,203.92 234.00,203.70 236.86,203.54 239.44,203.46 241.75,203.39 243.78,203.29 245.53,203.11 247.00,202.80 247.95,202.29 248.33,201.61 248.44,200.84 248.56,200.09 248.98,199.45 250.00,199.00 251.82,199.00 254.26,199.00 257.00,199.00 259.74,199.00 262.18,199.00 264.00,199.00 265.17,199.00 265.93,199.00 266.38,199.00 266.63,199.00 266.80,199.00 267.00,199.00 267.00,208.00 266.74,207.96 266.44,207.87 266.06,207.78 265.56,207.73 264.88,207.79 264.00,208.00 262.86,208.41 261.48,208.98 259.94,209.65 258.30,210.36 256.63,211.03 255.00,211.60 253.40,212.09 251.78,212.56 250.12,212.99 248.44,213.38 246.74,213.72 245.00,214.00 243.36,214.20 241.85,214.32 240.31,214.39 238.59,214.44 236.54,214.50 234.00,214.60 230.86,214.73 227.22,214.87 223.25,215.02 219.11,215.17 214.97,215.33 211.00,215.50 207.17,215.66 203.33,215.81 199.50,215.96 195.67,216.14 191.83,216.34 188.00,216.60 183.99,216.94 179.78,217.35 175.56,217.79 171.56,218.23 167.97,218.61 165.00,218.90 162.86,219.08 161.43,219.17 160.41,219.22 159.52,219.24 158.48,219.26 157.00,219.30 155.07,219.39 152.91,219.50 150.59,219.61 148.20,219.69 145.81,219.73 143.50,219.70 141.31,219.59 139.20,219.43 137.09,219.21 134.91,218.96 132.57,218.69 130.00,218.40 127.29,218.07 124.52,217.70 121.59,217.29 118.43,216.89 114.92,216.52 111.00,216.20 106.52,215.94 101.52,215.72 96.19,215.53 90.70,215.36 85.25,215.18 80.00,215.00 74.71,214.82 69.19,214.65 63.69,214.49 58.48,214.31 53.83,214.12 50.00,213.90 47.18,213.65 45.19,213.38 43.75,213.09 42.59,212.78 41.44,212.45 40.00,212.10 38.30,211.72 36.56,211.30 34.81,210.86 33.11,210.42 31.49,210.00 30.00,209.60 28.61,209.21 27.30,208.82 26.06,208.44 24.93,208.10 23.90,207.81 23.00,207.60 22.23,207.48 21.59,207.45 21.06,207.47 20.63,207.53 20.28,207.58 20.00,207.60" fill="#90ff00"/>
<polygon points="20.00,199.00 20.18,199.00 20.31,199.00 20.53,199.00 20.96,199.00 21.74,199.00 23.00,199.00 25.02,199.00 27.74,199.00 30.81,199.00 33.87,199.00 36.55,199.00 38.50,199.00 39.47,199.67 39.70,200.65 39.56,201.79 39.41,202.94 39.60,203.94 40.50,204.65 42.11,205.03 44.13,205.20 46.50,205.22 49.15,205.18 52.00,205.15 55.00,205.20 58.22,205.31 61.74,205.43 65.47,205.55 69.31,205.69 73.19,205.87 77.00,206.10 80.91,206.40 85.04,206.77 89.19,207.17 93.19,207.58 96.85,207.96 100.00,208.30 102.49,208.57 104.44,208.80 106.06,209.01 107.56,209.22 109.13,209.44 111.00,209.70 113.21,210.01 115.59,210.35 118.06,210.71 120.52,211.06 122.86,211.40 125.00,211.70 126.92,211.97 128.69,212.21 130.34,212.44 131.93,212.65 133.47,212.84 135.00,213.00 136.50,213.14 137.94,213.26 139.34,213.36 140.72,213.44 142.10,213.48 143.50,213.50 144.86,213.49 146.14,213.45 147.42,213.38 148.78,213.29 150.28,213.16 152.00,213.00 153.88,212.81 155.84,212.59 157.96,212.34 160.27,212.06 162.83,211.75 165.70,211.40 168.98,210.99 172.64,210.52 176.55,210.01 180.59,209.50 184.61,209.02 188.50,208.60 192.26,208.24 196.00,207.92 199.74,207.62 203.47,207.35 207.22,207.08 211.00,206.80 214.92,206.53 219.00,206.26 223.09,206.01 227.06,205.75 230.74,205.48 234.00,205.20 236.86,204.93 239.44,204.68 241.75,204.42 243.78,204.12 245.53,203.76 247.00,203.30 247.95,202.67 248.33,201.89 248.44,201.03 248.56,200.20 248.98,199.50 250.00,199.00 251.82,199.00 254.26,199.00 257.00,199.00 259.74,199.00 262.18,199.00 264.00,199.00 265.17,199.00 265.93,199.00 266.38,199.00 266.63,199.00 266.80,199.00 267.00,199.00 267.00,207.50 266.80,207.48 266.63,207.43 266.38,207.38 265.93,207.36 265.17,207.39 264.00,207.50 262.33,207.72 260.22,208.02 257.81,208.38 255.22,208.76 252.58,209.11 250.00,209.40 247.53,209.62 245.07,209.81 242.56,209.97 239.93,210.13 237.09,210.30 234.00,210.50 230.57,210.74 226.85,210.99 222.94,211.26 218.93,211.53 214.91,211.82 211.00,212.10 207.17,212.38 203.33,212.66 199.50,212.94 195.67,213.24 191.83,213.56 188.00,213.90 183.99,214.30 179.78,214.75 175.56,215.22 171.56,215.68 167.97,216.09 165.00,216.40 162.86,216.61 161.43,216.74 160.41,216.81 159.52,216.86 158.48,216.92 157.00,217.00 155.07,217.13 152.91,217.30 150.59,217.47 148.20,217.61 145.81,217.70 143.50,217.70 141.31,217.61 139.20,217.46 137.09,217.25 134.91,217.00 132.57,216.71 130.00,216.40 127.29,216.04 124.52,215.63 121.59,215.18 118.43,214.73 114.92,214.29 111.00,213.90 106.40,213.55 101.15,213.21 95.56,212.90 89.96,212.61 84.67,212.34 80.00,212.10 76.03,211.91 72.52,211.77 69.31,211.65 66.26,211.53 63.21,211.39 60.00,211.20 56.63,210.96 53.22,210.68 49.81,210.38 46.44,210.06 43.16,209.73 40.00,209.40 36.83,209.04 33.59,208.64 30.44,208.24 27.52,207.86 24.99,207.53 23.00,207.30 21.66,207.18 20.85,207.14 20.44,207.17 20.26,207.22 20.16,207.28 20.00,207.30" fill="#ffff00"/>
<linearGradient id="gl4" gradientUnits="userSpaceOnUse" x1="30.50" y1="0" x2="38.00" y2="0"><stop offset="0" stop-color="#ff4a00"/><stop offset="0.5" stop-color="#ff9a00"/><stop offset="1" stop-color="#ffd800"/></linearGradient>
<linearGradient id="gr4" gradientUnits="userSpaceOnUse" x1="255.50" y1="0" x2="249.80" y2="0"><stop offset="0" stop-color="#ff4a00"/><stop offset="0.5" stop-color="#ff9a00"/><stop offset="1" stop-color="#ffd800"/></linearGradient>
<polygon points="20.00,199.00 38.00,199.00 37.00,205.00 33.00,207.40 20.00,207.40" fill="url(#gl4)"/>
<polygon points="249.80,199.00 267.00,199.00 267.00,207.60 255.00,207.60 251.00,205.00" fill="url(#gr4)"/>
<polygon points="20.00,199.00 31.50,199.00 31.00,205.00 30.00,207.00 20.00,207.00" fill="#ff1a00"/>
<polygon points="254.50,199.00 267.00,199.00 267.00,207.20 257.00,207.20 255.50,204.50" fill="#ff1a00"/>
</g></g>
<rect x="23" y="230.80" width="241.00" height="1.0" fill="#3c8c3c" opacity="0.75"/>
<rect x="23" y="231.80" width="241.00" height="0.8" fill="#f0dcf0" opacity="0.6"/>
<rect x="23" y="202.00" width="241.00" height="0.9" fill="#000" opacity="0.14"/>
<rect x="23" y="201.10" width="241.00" height="0.9" fill="#f4e6f4" opacity="0.7"/>
<clipPath id="c5"><rect x="286" y="16.2" width="241.30" height="29.70"/></clipPath>
<g clip-path="url(#c5)"><g filter="url(#bl)">
<rect x="283" y="13.2" width="247.30" height="35.70" fill="#00fa00"/>
<polygon points="283.00,13.20 283.20,13.20 283.36,13.20 283.61,13.20 284.06,13.20 284.82,13.20 286.00,13.20 287.88,13.20 290.43,13.20 293.29,13.20 296.10,13.20 298.53,13.20 300.20,13.20 300.80,19.70 301.13,19.69 301.41,19.67 301.82,19.64 302.56,19.63 303.79,19.65 305.70,19.70 308.47,19.79 311.99,19.91 316.00,20.05 320.26,20.21 324.51,20.40 328.50,20.60 332.26,20.83 336.00,21.08 339.74,21.36 343.47,21.64 347.22,21.93 351.00,22.20 354.70,22.45 358.31,22.70 361.93,22.94 365.67,23.19 369.66,23.45 374.00,23.75 378.89,24.11 384.28,24.56 389.91,25.02 395.53,25.43 400.88,25.75 405.70,25.90 409.92,25.87 413.72,25.68 417.26,25.39 420.67,25.05 424.10,24.70 427.70,24.39 431.46,24.12 435.25,23.84 439.07,23.55 442.89,23.26 446.71,22.97 450.50,22.69 454.26,22.42 458.00,22.15 461.74,21.89 465.47,21.62 469.22,21.36 473.00,21.10 476.91,20.83 480.98,20.54 485.06,20.25 489.02,19.99 492.71,19.76 496.00,19.60 498.92,19.51 501.58,19.49 503.98,19.51 506.10,19.54 507.94,19.58 509.50,19.60 510.69,19.60 511.51,19.60 512.04,19.60 512.39,19.60 512.65,19.60 512.90,19.60 513.50,13.20 515.13,13.20 517.48,13.20 520.21,13.20 522.99,13.20 525.47,13.20 527.30,13.20 528.46,13.20 529.21,13.20 529.66,13.20 529.92,13.20 530.10,13.20 530.30,13.20 530.30,26.50 530.02,26.49 529.68,26.48 529.26,26.46 528.73,26.46 528.08,26.47 527.30,26.50 526.36,26.54 525.29,26.56 524.09,26.61 522.79,26.69 521.42,26.84 520.00,27.07 518.54,27.43 517.01,27.91 515.42,28.45 513.73,28.99 511.93,29.50 510.00,29.90 508.00,30.20 505.96,30.44 503.81,30.63 501.48,30.80 498.90,30.95 496.00,31.10 492.69,31.24 489.00,31.36 485.06,31.47 481.00,31.57 476.94,31.68 473.00,31.80 469.17,31.93 465.33,32.07 461.50,32.22 457.67,32.37 453.83,32.52 450.00,32.69 446.15,32.88 442.27,33.10 438.39,33.32 434.54,33.54 430.73,33.73 427.00,33.89 423.47,34.03 420.16,34.16 416.89,34.28 413.51,34.35 409.83,34.36 405.70,34.30 400.92,34.14 395.58,33.87 389.96,33.55 384.31,33.21 378.90,32.90 374.00,32.65 369.66,32.46 365.69,32.30 361.96,32.16 358.34,32.04 354.73,31.92 351.00,31.80 347.11,31.68 343.15,31.57 339.19,31.47 335.30,31.36 331.54,31.24 328.00,31.10 324.62,30.94 321.33,30.77 318.19,30.59 315.22,30.39 312.48,30.16 310.00,29.90 307.87,29.57 306.07,29.17 304.50,28.75 303.04,28.34 301.57,27.97 300.00,27.70 298.26,27.53 296.44,27.43 294.62,27.38 292.89,27.36 291.32,27.34 290.00,27.30 288.97,27.24 288.19,27.18 287.56,27.12 287.04,27.07 286.54,27.03 286.00,27.00 285.41,26.98 284.81,26.98 284.25,26.98 283.74,26.99 283.31,27.00 283.00,27.00" fill="#90ff00"/>
<polygon points="283.00,13.20 283.20,13.20 283.36,13.20 283.61,13.20 284.06,13.20 284.82,13.20 286.00,13.20 287.88,13.20 290.43,13.20 293.29,13.20 296.10,13.20 298.53,13.20 300.20,13.20 300.80,21.20 301.13,21.19 301.41,21.17 301.82,21.14 302.56,21.13 303.79,21.15 305.70,21.20 308.47,21.29 311.99,21.41 316.00,21.55 320.26,21.71 324.51,21.90 328.50,22.10 332.26,22.33 336.00,22.58 339.74,22.86 343.47,23.14 347.22,23.43 351.00,23.70 354.70,23.95 358.31,24.20 361.93,24.44 365.67,24.69 369.66,24.95 374.00,25.25 378.89,25.61 384.28,26.06 389.91,26.52 395.53,26.93 400.88,27.25 405.70,27.40 409.92,27.37 413.72,27.18 417.26,26.89 420.67,26.55 424.10,26.20 427.70,25.89 431.46,25.62 435.25,25.34 439.07,25.05 442.89,24.76 446.71,24.47 450.50,24.19 454.26,23.92 458.00,23.65 461.74,23.39 465.47,23.12 469.22,22.86 473.00,22.60 476.91,22.33 480.98,22.04 485.06,21.75 489.02,21.49 492.71,21.26 496.00,21.10 498.92,21.01 501.58,20.99 503.98,21.01 506.10,21.04 507.94,21.08 509.50,21.10 510.69,21.10 511.51,21.10 512.04,21.10 512.39,21.10 512.65,21.10 512.90,21.10 513.50,13.20 515.13,13.20 517.48,13.20 520.21,13.20 522.99,13.20 525.47,13.20 527.30,13.20 528.46,13.20 529.21,13.20 529.66,13.20 529.92,13.20 530.10,13.20 530.30,13.20 530.30,24.80 530.08,24.80 529.87,24.79 529.57,24.79 529.10,24.79 528.37,24.79 527.30,24.80 525.87,24.81 524.14,24.81 522.15,24.81 519.94,24.84 517.55,24.89 515.00,25.00 512.27,25.16 509.31,25.37 506.17,25.61 502.88,25.87 499.48,26.14 496.00,26.40 492.40,26.65 488.63,26.92 484.75,27.19 480.81,27.46 476.88,27.73 473.00,28.00 469.17,28.27 465.33,28.54 461.50,28.81 457.67,29.08 453.83,29.35 450.00,29.62 446.15,29.89 442.27,30.16 438.39,30.43 434.54,30.69 430.73,30.94 427.00,31.17 423.47,31.42 420.16,31.69 416.89,31.95 413.51,32.16 409.83,32.29 405.70,32.29 400.92,32.14 395.58,31.87 389.96,31.50 384.31,31.10 378.90,30.70 374.00,30.34 369.66,30.00 365.69,29.66 361.96,29.32 358.34,28.98 354.73,28.67 351.00,28.40 347.16,28.17 343.31,27.99 339.46,27.83 335.61,27.67 331.79,27.50 328.00,27.30 324.17,27.05 320.27,26.76 316.39,26.46 312.62,26.16 309.03,25.90 305.70,25.70 302.57,25.56 299.54,25.47 296.71,25.42 294.12,25.38 291.86,25.35 290.00,25.30 288.64,25.24 287.76,25.18 287.21,25.12 286.83,25.07 286.47,25.03 286.00,25.00 285.41,24.98 284.81,24.98 284.25,24.98 283.74,24.99 283.31,25.00 283.00,25.00" fill="#ffff00"/>
<linearGradient id="gl5" gradientUnits="userSpaceOnUse" x1="294.50" y1="0" x2="301.00" y2="0"><stop offset="0" stop-color="#ff4a00"/><stop offset="0.5" stop-color="#ff9a00"/><stop offset="1" stop-color="#ffd800"/></linearGradient>
<linearGradient id="gr5" gradientUnits="userSpaceOnUse" x1="518.50" y1="0" x2="512.00" y2="0"><stop offset="0" stop-color="#ff4a00"/><stop offset="0.5" stop-color="#ff9a00"/><stop offset="1" stop-color="#ffd800"/></linearGradient>
<polygon points="283.00,13.20 301.00,13.20 301.00,20.00 299.50,22.60 283.00,22.60" fill="url(#gl5)"/>
<polygon points="512.00,13.20 530.30,13.20 530.30,22.60 513.50,22.60 512.00,20.00" fill="url(#gr5)"/>
<polygon points="283.00,13.20 295.50,13.20 295.50,22.20 283.00,22.20" fill="#ff1a00"/>
<polygon points="517.50,13.20 530.30,13.20 530.30,22.20 517.50,22.20" fill="#ff1a00"/>
</g></g>
<rect x="286" y="44.90" width="241.30" height="1.0" fill="#3c8c3c" opacity="0.75"/>
<rect x="286" y="45.90" width="241.30" height="0.8" fill="#f0dcf0" opacity="0.6"/>
<rect x="286" y="16.20" width="241.30" height="0.9" fill="#000" opacity="0.14"/>
<rect x="286" y="15.30" width="241.30" height="0.9" fill="#f4e6f4" opacity="0.7"/>
<clipPath id="c6"><rect x="286" y="59.2" width="241.30" height="29.70"/></clipPath>
<g clip-path="url(#c6)"><g filter="url(#bl)">
<rect x="283" y="56.2" width="247.30" height="35.70" fill="#00fa00"/>
<polygon points="283.00,56.20 283.20,56.20 283.36,56.20 283.61,56.20 284.06,56.20 284.82,56.20 286.00,56.20 287.88,56.20 290.43,56.20 293.29,56.20 296.10,56.20 298.53,56.20 300.20,56.20 300.80,62.60 301.13,62.60 301.41,62.59 301.82,62.57 302.56,62.57 303.79,62.58 305.70,62.60 308.47,62.64 311.99,62.68 316.00,62.73 320.26,62.80 324.51,62.89 328.50,63.00 332.26,63.13 336.00,63.29 339.74,63.46 343.47,63.65 347.22,63.86 351.00,64.10 354.70,64.36 358.31,64.63 361.93,64.93 365.67,65.25 369.66,65.60 374.00,65.98 378.89,66.46 384.28,67.06 389.91,67.68 395.53,68.24 400.88,68.68 405.70,68.89 409.92,68.85 413.74,68.60 417.29,68.22 420.70,67.77 424.13,67.33 427.70,66.96 431.39,66.66 435.09,66.36 438.79,66.07 442.50,65.78 446.24,65.49 450.00,65.21 453.79,64.93 457.61,64.66 461.46,64.38 465.31,64.12 469.16,63.85 473.00,63.60 476.94,63.34 481.00,63.07 485.06,62.80 489.00,62.56 492.69,62.35 496.00,62.20 498.98,62.12 501.74,62.10 504.26,62.11 506.49,62.15 508.41,62.18 510.00,62.20 511.16,62.20 511.90,62.20 512.33,62.20 512.56,62.20 512.71,62.20 512.90,62.20 513.50,56.20 515.13,56.20 517.48,56.20 520.21,56.20 522.99,56.20 525.47,56.20 527.30,56.20 528.46,56.20 529.21,56.20 529.66,56.20 529.92,56.20 530.10,56.20 530.30,56.20 530.30,70.00 530.02,70.00 529.68,69.99 529.26,69.99 528.73,69.99 528.08,69.99 527.30,70.00 526.36,69.98 525.29,69.92 524.09,69.86 522.79,69.85 521.42,69.95 520.00,70.19 518.54,70.65 517.01,71.30 515.42,72.05 513.73,72.81 511.93,73.49 510.00,74.00 508.00,74.32 505.96,74.52 503.81,74.64 501.48,74.72 498.90,74.80 496.00,74.90 492.69,75.03 489.00,75.15 485.06,75.26 481.00,75.37 476.94,75.49 473.00,75.60 469.17,75.71 465.33,75.80 461.50,75.90 457.67,76.00 453.83,76.13 450.00,76.29 446.15,76.50 442.27,76.75 438.39,77.02 434.54,77.30 430.73,77.56 427.00,77.79 423.47,78.03 420.16,78.30 416.89,78.55 413.51,78.75 409.83,78.85 405.70,78.80 400.92,78.57 395.58,78.16 389.96,77.65 384.31,77.12 378.90,76.63 374.00,76.25 369.66,75.98 365.69,75.77 361.96,75.61 358.34,75.47 354.73,75.34 351.00,75.20 347.11,75.07 343.15,74.96 339.19,74.86 335.30,74.76 331.54,74.64 328.00,74.50 324.62,74.34 321.33,74.17 318.19,73.99 315.22,73.79 312.48,73.56 310.00,73.30 307.87,72.97 306.07,72.58 304.50,72.16 303.04,71.75 301.57,71.39 300.00,71.10 298.26,70.90 296.44,70.77 294.62,70.68 292.89,70.62 291.32,70.56 290.00,70.50 288.97,70.43 288.19,70.37 287.56,70.31 287.04,70.27 286.54,70.23 286.00,70.20 285.41,70.18 284.81,70.18 284.25,70.18 283.74,70.19 283.31,70.20 283.00,70.20" fill="#90ff00"/>
<polygon points="283.00,56.20 283.20,56.20 283.36,56.20 283.61,56.20 284.06,56.20 284.82,56.20 286.00,56.20 287.88,56.20 290.43,56.20 293.29,56.20 296.10,56.20 298.53,56.20 300.20,56.20 300.80,65.20 301.13,65.20 301.41,65.19 301.82,65.18 302.56,65.17 303.79,65.18 305.70,65.20 308.47,65.24 311.99,65.28 316.00,65.33 320.26,65.40 324.51,65.49 328.50,65.60 332.26,65.73 336.00,65.89 339.74,66.06 343.47,66.25 347.22,66.46 351.00,66.70 354.70,66.96 358.31,67.23 361.93,67.53 365.67,67.85 369.66,68.20 374.00,68.58 378.89,69.06 384.28,69.66 389.91,70.28 395.53,70.84 400.88,71.28 405.70,71.49 409.92,71.45 413.74,71.20 417.29,70.82 420.70,70.37 424.13,69.93 427.70,69.56 431.39,69.26 435.09,68.96 438.79,68.67 442.50,68.38 446.24,68.09 450.00,67.81 453.79,67.53 457.61,67.26 461.46,66.98 465.31,66.72 469.16,66.45 473.00,66.20 476.94,65.94 481.00,65.67 485.06,65.40 489.00,65.16 492.69,64.95 496.00,64.80 498.98,64.72 501.74,64.70 504.26,64.71 506.49,64.75 508.41,64.78 510.00,64.80 511.16,64.80 511.90,64.80 512.33,64.80 512.56,64.80 512.71,64.80 512.90,64.80 513.50,56.20 515.13,56.20 517.48,56.20 520.21,56.20 522.99,56.20 525.47,56.20 527.30,56.20 528.46,56.20 529.21,56.20 529.66,56.20 529.92,56.20 530.10,56.20 530.30,56.20 530.30,68.20 530.08,68.20 529.87,68.21 529.57,68.21 529.10,68.21 528.37,68.21 527.30,68.20 525.87,68.16 524.14,68.09 522.15,68.01 519.94,67.96 517.55,67.94 515.00,68.00 512.27,68.14 509.31,68.34 506.17,68.59 502.88,68.86 499.48,69.14 496.00,69.40 492.40,69.65 488.63,69.92 484.75,70.18 480.81,70.46 476.88,70.73 473.00,71.00 469.17,71.26 465.33,71.52 461.50,71.77 457.67,72.04 453.83,72.33 450.00,72.65 446.15,73.02 442.27,73.44 438.39,73.88 434.54,74.32 430.73,74.74 427.00,75.11 423.47,75.49 420.16,75.91 416.89,76.30 413.51,76.61 409.83,76.79 405.70,76.77 400.92,76.50 395.58,76.01 389.96,75.38 384.31,74.71 378.90,74.07 374.00,73.56 369.66,73.16 365.69,72.82 361.96,72.51 358.34,72.23 354.73,71.97 351.00,71.70 347.17,71.44 343.33,71.19 339.50,70.95 335.67,70.73 331.83,70.51 328.00,70.30 324.07,70.10 320.04,69.90 316.00,69.72 312.07,69.54 308.37,69.37 305.00,69.20 301.91,69.03 299.00,68.86 296.31,68.70 293.89,68.55 291.77,68.41 290.00,68.30 288.69,68.21 287.81,68.14 287.25,68.09 286.85,68.06 286.48,68.03 286.00,68.00 285.41,67.98 284.81,67.98 284.25,67.98 283.74,67.99 283.31,68.00 283.00,68.00" fill="#ffff00"/>
<polygon points="295.00,64.20 295.25,64.21 295.37,64.20 295.62,64.20 296.30,64.22 297.66,64.28 300.00,64.40 303.55,64.58 308.15,64.82 313.44,65.10 319.07,65.40 324.71,65.71 330.00,66.00 335.06,66.28 340.19,66.55 345.31,66.82 350.37,67.12 355.29,67.44 360.00,67.80 364.75,68.24 369.63,68.76 374.38,69.31 378.70,69.84 382.34,70.28 385.00,70.60 385.00,70.60 382.34,70.59 378.70,70.59 374.38,70.59 369.63,70.56 364.75,70.51 360.00,70.40 355.29,70.24 350.37,70.03 345.31,69.79 340.19,69.53 335.06,69.26 330.00,69.00 324.71,68.73 319.07,68.43 313.44,68.13 308.15,67.84 303.55,67.59 300.00,67.40 297.66,67.28 296.30,67.22 295.62,67.20 295.37,67.20 295.25,67.21 295.00,67.20" fill="#ffcc00" opacity="0.75"/>
<polygon points="428.00,70.90 430.30,70.57 433.41,70.10 437.12,69.56 441.26,68.99 445.62,68.45 450.00,68.00 454.65,67.64 459.78,67.33 465.12,67.06 470.44,66.80 475.49,66.55 480.00,66.30 483.97,66.05 487.59,65.80 490.94,65.56 494.07,65.33 497.07,65.11 500.00,64.90 502.96,64.69 505.93,64.47 508.75,64.26 511.30,64.07 513.43,63.92 515.00,63.80 515.00,66.80 513.43,66.92 511.30,67.07 508.75,67.26 505.93,67.47 502.96,67.69 500.00,67.90 497.07,68.12 494.07,68.35 490.94,68.59 487.59,68.83 483.97,69.07 480.00,69.30 475.49,69.53 470.44,69.78 465.12,70.02 459.78,70.24 454.65,70.44 450.00,70.60 445.62,70.71 441.26,70.79 437.12,70.83 433.41,70.86 430.30,70.88 428.00,70.90" fill="#ffcc00" opacity="0.75"/>
<linearGradient id="gl6" gradientUnits="userSpaceOnUse" x1="293.60" y1="0" x2="300.00" y2="0"><stop offset="0" stop-color="#ff4a00"/><stop offset="0.5" stop-color="#ff9a00"/><stop offset="1" stop-color="#ffd800"/></linearGradient>
<linearGradient id="gr6" gradientUnits="userSpaceOnUse" x1="519.60" y1="0" x2="512.50" y2="0"><stop offset="0" stop-color="#ff4a00"/><stop offset="0.5" stop-color="#ff9a00"/><stop offset="1" stop-color="#ffd800"/></linearGradient>
<polygon points="283.00,56.20 300.00,56.20 300.00,63.00 298.50,65.60 283.00,65.60" fill="url(#gl6)"/>
<polygon points="512.50,56.20 530.30,56.20 530.30,65.60 514.00,65.60 512.50,63.00" fill="url(#gr6)"/>
<polygon points="283.00,56.20 294.60,56.20 294.60,65.20 283.00,65.20" fill="#ff1a00"/>
<polygon points="518.60,56.20 530.30,56.20 530.30,65.20 518.60,65.20" fill="#ff1a00"/>
</g></g>
<rect x="286" y="87.90" width="241.30" height="1.0" fill="#3c8c3c" opacity="0.75"/>
<rect x="286" y="88.90" width="241.30" height="0.8" fill="#f0dcf0" opacity="0.6"/>
<rect x="286" y="59.20" width="241.30" height="0.9" fill="#000" opacity="0.14"/>
<rect x="286" y="58.30" width="241.30" height="0.9" fill="#f4e6f4" opacity="0.7"/>
<clipPath id="c7"><rect x="286" y="109.1" width="241.30" height="29.80"/></clipPath>
<g clip-path="url(#c7)"><g filter="url(#bl)">
<rect x="283" y="106.1" width="247.30" height="35.80" fill="#00fa00"/>
<polygon points="283.00,106.10 283.20,106.10 283.36,106.10 283.61,106.10 284.06,106.10 284.82,106.10 286.00,106.10 287.88,106.10 290.43,106.10 293.29,106.10 296.10,106.10 298.53,106.10 300.20,106.10 300.80,111.90 301.13,111.88 301.41,111.84 301.82,111.79 302.56,111.77 303.79,111.80 305.70,111.90 308.47,112.09 311.99,112.37 316.00,112.69 320.26,113.03 324.51,113.34 328.50,113.60 332.26,113.79 336.00,113.95 339.74,114.08 343.47,114.20 347.22,114.34 351.00,114.50 354.70,114.67 358.31,114.85 361.93,115.03 365.67,115.23 369.66,115.47 374.00,115.74 378.89,116.10 384.28,116.56 389.91,117.05 395.53,117.50 400.88,117.84 405.70,118.01 409.92,117.98 413.74,117.78 417.29,117.47 420.70,117.12 424.13,116.77 427.70,116.48 431.39,116.25 435.09,116.04 438.79,115.83 442.50,115.62 446.24,115.41 450.00,115.18 453.79,114.93 457.61,114.66 461.46,114.39 465.31,114.12 469.16,113.85 473.00,113.60 476.94,113.36 481.00,113.11 485.06,112.88 489.00,112.66 492.69,112.46 496.00,112.30 498.98,112.18 501.74,112.09 504.26,112.02 506.49,111.97 508.41,111.93 510.00,111.90 511.16,111.88 511.90,111.87 512.33,111.87 512.56,111.89 512.71,111.90 512.90,111.90 513.50,106.10 515.13,106.10 517.48,106.10 520.21,106.10 522.99,106.10 525.47,106.10 527.30,106.10 528.46,106.10 529.21,106.10 529.66,106.10 529.92,106.10 530.10,106.10 530.30,106.10 530.30,120.00 530.02,119.99 529.68,119.97 529.26,119.94 528.73,119.93 528.08,119.95 527.30,120.00 526.36,120.07 525.29,120.14 524.09,120.23 522.79,120.37 521.42,120.60 520.00,120.92 518.54,121.40 517.01,122.04 515.42,122.75 513.73,123.46 511.93,124.10 510.00,124.60 508.00,124.94 505.96,125.17 503.81,125.34 501.48,125.46 498.90,125.57 496.00,125.70 492.69,125.84 489.00,125.96 485.06,126.06 481.00,126.17 476.94,126.28 473.00,126.40 469.17,126.54 465.33,126.68 461.50,126.82 457.67,126.98 453.83,127.14 450.00,127.31 446.15,127.50 442.27,127.70 438.39,127.92 434.54,128.13 430.73,128.33 427.00,128.51 423.47,128.70 420.16,128.92 416.89,129.12 413.51,129.28 409.83,129.35 405.70,129.30 400.92,129.07 395.58,128.71 389.96,128.25 384.31,127.77 378.90,127.32 374.00,126.95 369.66,126.68 365.69,126.44 361.96,126.22 358.34,126.04 354.73,125.86 351.00,125.70 347.11,125.55 343.15,125.43 339.19,125.33 335.30,125.23 331.54,125.12 328.00,125.00 324.62,124.87 321.33,124.75 318.19,124.62 315.22,124.47 312.48,124.30 310.00,124.10 307.87,123.85 306.07,123.57 304.50,123.26 303.04,122.93 301.57,122.61 300.00,122.30 298.26,121.98 296.44,121.64 294.62,121.31 292.89,120.99 291.32,120.71 290.00,120.50 288.97,120.36 288.19,120.28 287.56,120.24 287.04,120.22 286.54,120.22 286.00,120.20 285.41,120.18 284.81,120.18 284.25,120.18 283.74,120.19 283.31,120.20 283.00,120.20" fill="#90ff00"/>
<polygon points="283.00,106.10 283.20,106.10 283.36,106.10 283.61,106.10 284.06,106.10 284.82,106.10 286.00,106.10 287.88,106.10 290.43,106.10 293.29,106.10 296.10,106.10 298.53,106.10 300.20,106.10 300.80,114.90 301.13,114.88 301.41,114.84 301.82,114.79 302.56,114.77 303.79,114.80 305.70,114.90 308.47,115.09 311.99,115.37 316.00,115.69 320.26,116.03 324.51,116.34 328.50,116.60 332.26,116.79 336.00,116.95 339.74,117.08 343.47,117.20 347.22,117.34 351.00,117.50 354.70,117.67 358.31,117.85 361.93,118.03 365.67,118.23 369.66,118.47 374.00,118.74 378.89,119.10 384.28,119.56 389.91,120.05 395.53,120.50 400.88,120.84 405.70,121.01 409.92,120.98 413.74,120.78 417.29,120.47 420.70,120.12 424.13,119.77 427.70,119.48 431.39,119.25 435.09,119.04 438.79,118.83 442.50,118.62 446.24,118.41 450.00,118.18 453.79,117.93 457.61,117.66 461.46,117.39 465.31,117.12 469.16,116.85 473.00,116.60 476.94,116.36 481.00,116.11 485.06,115.88 489.00,115.66 492.69,115.46 496.00,115.30 498.98,115.18 501.74,115.09 504.26,115.02 506.49,114.97 508.41,114.93 510.00,114.90 511.16,114.88 511.90,114.87 512.33,114.87 512.56,114.89 512.71,114.90 512.90,114.90 513.50,106.10 515.13,106.10 517.48,106.10 520.21,106.10 522.99,106.10 525.47,106.10 527.30,106.10 528.46,106.10 529.21,106.10 529.66,106.10 529.92,106.10 530.10,106.10 530.30,106.10 530.30,118.20 530.08,118.19 529.87,118.18 529.57,118.17 529.10,118.16 528.37,118.17 527.30,118.20 525.87,118.24 524.14,118.29 522.15,118.35 519.94,118.43 517.55,118.55 515.00,118.70 512.27,118.91 509.31,119.16 506.17,119.44 502.88,119.74 499.48,120.03 496.00,120.30 492.40,120.54 488.63,120.78 484.75,121.00 480.81,121.23 476.88,121.46 473.00,121.70 469.17,121.94 465.33,122.18 461.50,122.43 457.67,122.68 453.83,122.94 450.00,123.22 446.15,123.52 442.27,123.84 438.39,124.17 434.54,124.50 430.73,124.82 427.00,125.13 423.47,125.47 420.16,125.86 416.89,126.25 413.51,126.57 409.83,126.77 405.70,126.79 400.92,126.58 395.58,126.18 389.96,125.65 384.31,125.08 378.90,124.53 374.00,124.06 369.66,123.68 365.69,123.32 361.96,122.98 358.34,122.66 354.73,122.37 351.00,122.10 347.17,121.87 343.33,121.67 339.50,121.50 335.67,121.34 331.83,121.18 328.00,121.00 324.07,120.81 320.04,120.62 316.00,120.42 312.07,120.23 308.37,120.02 305.00,119.80 301.91,119.55 299.00,119.28 296.31,118.99 293.89,118.72 291.77,118.48 290.00,118.30 288.69,118.18 287.81,118.10 287.25,118.06 286.85,118.03 286.48,118.02 286.00,118.00 285.41,117.98 284.81,117.98 284.25,117.98 283.74,117.99 283.31,118.00 283.00,118.00" fill="#ffff00"/>
<polygon points="295.00,115.10 295.25,115.11 295.37,115.11 295.62,115.11 296.30,115.14 297.66,115.19 300.00,115.30 303.55,115.46 308.15,115.66 313.44,115.90 319.07,116.16 324.71,116.43 330.00,116.70 335.06,116.97 340.19,117.23 345.31,117.51 350.37,117.81 355.29,118.14 360.00,118.50 364.75,118.94 369.63,119.46 374.38,120.01 378.70,120.54 382.34,120.98 385.00,121.30 385.00,121.30 382.34,121.29 378.70,121.29 374.38,121.29 369.63,121.26 364.75,121.21 360.00,121.10 355.29,120.94 350.37,120.72 345.31,120.48 340.19,120.21 335.06,119.95 330.00,119.70 324.71,119.45 319.07,119.19 313.44,118.92 308.15,118.68 303.55,118.46 300.00,118.30 297.66,118.19 296.30,118.14 295.62,118.11 295.37,118.11 295.25,118.11 295.00,118.10" fill="#ffcc00" opacity="0.75"/>
<polygon points="428.00,121.80 430.30,121.42 433.41,120.89 437.12,120.26 441.26,119.61 445.62,119.00 450.00,118.50 454.54,118.11 459.41,117.77 464.50,117.48 469.70,117.21 474.91,116.96 480.00,116.70 485.29,116.43 490.93,116.16 496.56,115.91 501.85,115.67 506.45,115.47 510.00,115.30 512.34,115.18 513.70,115.11 514.38,115.06 514.63,115.04 514.75,115.02 515.00,115.00 515.00,118.00 514.75,118.02 514.63,118.04 514.38,118.06 513.70,118.11 512.34,118.18 510.00,118.30 506.45,118.47 501.85,118.69 496.56,118.93 490.93,119.19 485.29,119.45 480.00,119.70 474.91,119.94 469.70,120.19 464.50,120.44 459.41,120.69 454.54,120.91 450.00,121.10 445.62,121.27 441.26,121.41 437.12,121.54 433.41,121.64 430.30,121.73 428.00,121.80" fill="#ffcc00" opacity="0.75"/>
<linearGradient id="gl7" gradientUnits="userSpaceOnUse" x1="294.50" y1="0" x2="300.00" y2="0"><stop offset="0" stop-color="#ff4a00"/><stop offset="0.5" stop-color="#ff9a00"/><stop offset="1" stop-color="#ffd800"/></linearGradient>
<linearGradient id="gr7" gradientUnits="userSpaceOnUse" x1="518.50" y1="0" x2="512.00" y2="0"><stop offset="0" stop-color="#ff4a00"/><stop offset="0.5" stop-color="#ff9a00"/><stop offset="1" stop-color="#ffd800"/></linearGradient>
<polygon points="283.00,106.10 300.00,106.10 300.00,113.00 298.50,116.30 283.00,116.30" fill="url(#gl7)"/>
<polygon points="512.00,106.10 530.30,106.10 530.30,116.30 513.50,116.30 512.00,113.00" fill="url(#gr7)"/>
<polygon points="283.00,106.10 295.50,106.10 295.50,115.90 283.00,115.90" fill="#ff1a00"/>
<polygon points="517.50,106.10 530.30,106.10 530.30,115.90 517.50,115.90" fill="#ff1a00"/>
</g></g>
<rect x="286" y="137.90" width="241.30" height="1.0" fill="#3c8c3c" opacity="0.75"/>
<rect x="286" y="138.90" width="241.30" height="0.8" fill="#f0dcf0" opacity="0.6"/>
<rect x="286" y="109.10" width="241.30" height="0.9" fill="#000" opacity="0.14"/>
<rect x="286" y="108.20" width="241.30" height="0.9" fill="#f4e6f4" opacity="0.7"/>
<clipPath id="c8"><rect x="286" y="153.9" width="241.30" height="30.10"/></clipPath>
<g clip-path="url(#c8)"><g filter="url(#bl)">
<rect x="283" y="150.9" width="247.30" height="36.10" fill="#00fa00"/>
<polygon points="283.00,150.90 283.20,150.90 283.36,150.90 283.61,150.90 284.06,150.90 284.82,150.90 286.00,150.90 287.88,150.90 290.43,150.90 293.29,150.90 296.10,150.90 298.53,150.90 300.20,150.90 300.80,156.90 301.13,156.90 301.41,156.89 301.82,156.88 302.56,156.87 303.79,156.88 305.70,156.90 308.47,156.93 311.99,156.97 316.00,157.02 320.26,157.09 324.51,157.18 328.50,157.30 332.26,157.46 336.00,157.66 339.74,157.88 343.47,158.11 347.22,158.36 351.00,158.60 354.70,158.84 358.31,159.09 361.93,159.34 365.67,159.60 369.66,159.89 374.00,160.20 378.89,160.59 384.28,161.06 389.91,161.55 395.53,162.00 400.88,162.33 405.70,162.50 409.92,162.46 413.74,162.26 417.29,161.96 420.70,161.59 424.13,161.22 427.70,160.90 431.39,160.60 435.09,160.29 438.79,159.97 442.50,159.66 446.24,159.36 450.00,159.10 453.79,158.88 457.61,158.69 461.46,158.52 465.31,158.36 469.16,158.19 473.00,158.00 476.94,157.78 481.00,157.53 485.06,157.28 489.00,157.04 492.69,156.84 496.00,156.70 498.98,156.62 501.74,156.60 504.26,156.62 506.49,156.65 508.41,156.68 510.00,156.70 511.16,156.70 511.90,156.70 512.33,156.70 512.56,156.70 512.71,156.70 512.90,156.70 513.50,150.90 515.13,150.90 517.48,150.90 520.21,150.90 522.99,150.90 525.47,150.90 527.30,150.90 528.46,150.90 529.21,150.90 529.66,150.90 529.92,150.90 530.10,150.90 530.30,150.90 530.30,164.50 530.02,164.49 529.68,164.47 529.26,164.45 528.73,164.45 528.08,164.46 527.30,164.50 526.36,164.54 525.29,164.57 524.09,164.62 522.79,164.72 521.42,164.91 520.00,165.22 518.54,165.72 517.01,166.39 515.42,167.15 513.73,167.91 511.93,168.59 510.00,169.10 508.00,169.42 505.96,169.63 503.81,169.75 501.48,169.83 498.90,169.90 496.00,170.00 492.69,170.13 489.00,170.25 485.06,170.36 481.00,170.47 476.94,170.59 473.00,170.70 469.17,170.81 465.33,170.90 461.50,170.99 457.67,171.10 453.83,171.23 450.00,171.40 446.15,171.63 442.27,171.92 438.39,172.23 434.54,172.54 430.73,172.82 427.00,173.05 423.47,173.27 420.16,173.49 416.89,173.68 413.51,173.81 409.83,173.86 405.70,173.80 400.92,173.57 395.58,173.19 389.96,172.73 384.31,172.24 378.90,171.79 374.00,171.43 369.66,171.16 365.69,170.94 361.96,170.76 358.34,170.60 354.73,170.45 351.00,170.30 347.11,170.16 343.15,170.05 339.19,169.95 335.30,169.85 331.54,169.74 328.00,169.60 324.62,169.44 321.33,169.27 318.19,169.09 315.22,168.89 312.48,168.66 310.00,168.40 307.87,168.08 306.07,167.70 304.50,167.30 303.04,166.90 301.57,166.52 300.00,166.20 298.26,165.93 296.44,165.69 294.62,165.48 292.89,165.30 291.32,165.14 290.00,165.00 288.97,164.89 288.19,164.82 287.56,164.77 287.04,164.74 286.54,164.72 286.00,164.70 285.41,164.68 284.81,164.68 284.25,164.68 283.74,164.69 283.31,164.70 283.00,164.70" fill="#90ff00"/>
<polygon points="283.00,150.90 283.20,150.90 283.36,150.90 283.61,150.90 284.06,150.90 284.82,150.90 286.00,150.90 287.88,150.90 290.43,150.90 293.29,150.90 296.10,150.90 298.53,150.90 300.20,150.90 300.80,160.30 301.13,160.30 301.41,160.29 301.82,160.28 302.56,160.27 303.79,160.28 305.70,160.30 308.47,160.33 311.99,160.37 316.00,160.42 320.26,160.49 324.51,160.58 328.50,160.70 332.26,160.86 336.00,161.06 339.74,161.28 343.47,161.51 347.22,161.76 351.00,162.00 354.70,162.24 358.31,162.49 361.93,162.74 365.67,163.00 369.66,163.29 374.00,163.60 378.89,163.99 384.28,164.46 389.91,164.95 395.53,165.40 400.88,165.73 405.70,165.90 409.92,165.86 413.74,165.66 417.29,165.36 420.70,164.99 424.13,164.62 427.70,164.30 431.39,164.00 435.09,163.69 438.79,163.37 442.50,163.06 446.24,162.76 450.00,162.50 453.79,162.28 457.61,162.09 461.46,161.92 465.31,161.76 469.16,161.59 473.00,161.40 476.94,161.18 481.00,160.93 485.06,160.68 489.00,160.44 492.69,160.24 496.00,160.10 498.98,160.02 501.74,160.00 504.26,160.02 506.49,160.05 508.41,160.08 510.00,160.10 511.16,160.10 511.90,160.10 512.33,160.10 512.56,160.10 512.71,160.10 512.90,160.10 513.50,150.90 515.13,150.90 517.48,150.90 520.21,150.90 522.99,150.90 525.47,150.90 527.30,150.90 528.46,150.90 529.21,150.90 529.66,150.90 529.92,150.90 530.10,150.90 530.30,150.90 530.30,162.60 530.08,162.59 529.87,162.58 529.57,162.56 529.10,162.56 528.37,162.57 527.30,162.60 525.87,162.66 524.14,162.73 522.15,162.81 519.94,162.92 517.55,163.05 515.00,163.20 512.27,163.38 509.31,163.60 506.17,163.84 502.88,164.09 499.48,164.35 496.00,164.60 492.40,164.85 488.63,165.12 484.75,165.38 480.81,165.66 476.88,165.93 473.00,166.20 469.17,166.46 465.33,166.72 461.50,166.97 457.67,167.24 453.83,167.52 450.00,167.84 446.15,168.20 442.27,168.60 438.39,169.03 434.54,169.45 430.73,169.85 427.00,170.20 423.47,170.56 420.16,170.96 416.89,171.33 413.51,171.63 409.83,171.79 405.70,171.78 400.92,171.52 395.58,171.05 389.96,170.45 384.31,169.80 378.90,169.19 374.00,168.70 369.66,168.32 365.69,167.99 361.96,167.70 358.34,167.42 354.73,167.16 351.00,166.90 347.17,166.64 343.33,166.39 339.50,166.14 335.67,165.91 331.83,165.70 328.00,165.50 324.07,165.33 320.04,165.20 316.00,165.07 312.07,164.95 308.37,164.80 305.00,164.60 301.91,164.33 299.00,164.01 296.31,163.66 293.89,163.32 291.77,163.02 290.00,162.80 288.69,162.66 287.81,162.58 287.25,162.54 286.85,162.52 286.48,162.52 286.00,162.50 285.41,162.48 284.81,162.48 284.25,162.48 283.74,162.49 283.31,162.50 283.00,162.50" fill="#ffff00"/>
<polygon points="296.00,159.80 296.13,159.80 296.07,159.79 296.12,159.78 296.59,159.79 297.78,159.82 300.00,159.90 303.50,160.02 308.07,160.17 313.38,160.34 319.04,160.54 324.70,160.76 330.00,161.00 335.06,161.25 340.19,161.51 345.31,161.79 350.37,162.10 355.29,162.43 360.00,162.80 364.75,163.24 369.63,163.76 374.38,164.31 378.70,164.84 382.34,165.28 385.00,165.60 385.00,165.60 382.34,165.59 378.70,165.59 374.38,165.59 369.63,165.56 364.75,165.51 360.00,165.40 355.29,165.23 350.37,165.01 345.31,164.76 340.19,164.49 335.06,164.23 330.00,164.00 324.70,163.79 319.04,163.57 313.38,163.37 308.07,163.18 303.50,163.02 300.00,162.90 297.78,162.82 296.59,162.79 296.12,162.78 296.07,162.79 296.13,162.80 296.00,162.80" fill="#ffcc00" opacity="0.75"/>
<polygon points="428.00,165.80 430.30,165.46 433.41,164.98 437.12,164.41 441.26,163.82 445.62,163.27 450.00,162.80 454.54,162.42 459.41,162.09 464.50,161.78 469.70,161.50 474.91,161.25 480.00,161.00 485.29,160.77 490.93,160.55 496.56,160.36 501.85,160.18 506.45,160.03 510.00,159.90 512.34,159.80 513.70,159.73 514.38,159.68 514.63,159.65 514.75,159.62 515.00,159.60 515.00,162.60 514.75,162.62 514.63,162.65 514.38,162.68 513.70,162.73 512.34,162.80 510.00,162.90 506.45,163.03 501.85,163.20 496.56,163.38 490.93,163.58 485.29,163.79 480.00,164.00 474.91,164.23 469.70,164.48 464.50,164.74 459.41,165.00 454.54,165.22 450.00,165.40 445.62,165.53 441.26,165.62 437.12,165.69 433.41,165.73 430.30,165.77 428.00,165.80" fill="#ffcc00" opacity="0.75"/>
<linearGradient id="gl8" gradientUnits="userSpaceOnUse" x1="295.60" y1="0" x2="301.00" y2="0"><stop offset="0" stop-color="#ff4a00"/><stop offset="0.5" stop-color="#ff9a00"/><stop offset="1" stop-color="#ffd800"/></linearGradient>
<linearGradient id="gr8" gradientUnits="userSpaceOnUse" x1="517.40" y1="0" x2="511.00" y2="0"><stop offset="0" stop-color="#ff4a00"/><stop offset="0.5" stop-color="#ff9a00"/><stop offset="1" stop-color="#ffd800"/></linearGradient>
<polygon points="283.00,150.90 301.00,150.90 301.00,157.50 299.50,160.60 283.00,160.60" fill="url(#gl8)"/>
<polygon points="511.00,150.90 530.30,150.90 530.30,160.60 512.50,160.60 511.00,157.50" fill="url(#gr8)"/>
<polygon points="283.00,150.90 296.60,150.90 296.60,160.20 283.00,160.20" fill="#ff1a00"/>
<polygon points="516.40,150.90 530.30,150.90 530.30,160.20 516.40,160.20" fill="#ff1a00"/>
</g></g>
<rect x="286" y="183.00" width="241.30" height="1.0" fill="#3c8c3c" opacity="0.75"/>
<rect x="286" y="184.00" width="241.30" height="0.8" fill="#f0dcf0" opacity="0.6"/>
<rect x="286" y="153.90" width="241.30" height="0.9" fill="#000" opacity="0.14"/>
<rect x="286" y="153.00" width="241.30" height="0.9" fill="#f4e6f4" opacity="0.7"/>
<clipPath id="c9"><rect x="286" y="200.9" width="241.30" height="30.10"/></clipPath>
<g clip-path="url(#c9)"><g filter="url(#bl)">
<rect x="283" y="197.9" width="247.30" height="36.10" fill="#00fa00"/>
<polygon points="283.00,197.90 283.20,197.90 283.36,197.90 283.61,197.90 284.06,197.90 284.82,197.90 286.00,197.90 287.88,197.90 290.43,197.90 293.29,197.90 296.10,197.90 298.53,197.90 300.20,197.90 300.80,203.90 301.13,203.90 301.41,203.90 301.82,203.90 302.56,203.90 303.79,203.90 305.70,203.90 308.47,203.88 311.99,203.84 316.00,203.79 320.26,203.77 324.51,203.80 328.50,203.90 332.26,204.08 336.00,204.34 339.74,204.64 343.47,204.97 347.22,205.30 351.00,205.60 354.70,205.87 358.31,206.14 361.93,206.40 365.67,206.67 369.66,206.97 374.00,207.31 378.89,207.73 384.28,208.25 389.91,208.79 395.53,209.28 400.88,209.67 405.70,209.89 409.92,209.91 413.74,209.77 417.29,209.53 420.70,209.22 424.13,208.90 427.70,208.61 431.39,208.34 435.09,208.05 438.79,207.73 442.50,207.42 446.24,207.11 450.00,206.81 453.79,206.53 457.61,206.26 461.46,205.99 465.31,205.72 469.16,205.46 473.00,205.20 476.94,204.93 481.00,204.64 485.06,204.35 489.00,204.08 492.69,203.86 496.00,203.70 498.98,203.61 501.74,203.59 504.26,203.61 506.49,203.64 508.41,203.68 510.00,203.70 511.16,203.70 511.90,203.70 512.33,203.70 512.56,203.70 512.71,203.70 512.90,203.70 513.50,197.90 515.13,197.90 517.48,197.90 520.21,197.90 522.99,197.90 525.47,197.90 527.30,197.90 528.46,197.90 529.21,197.90 529.66,197.90 529.92,197.90 530.10,197.90 530.30,197.90 530.30,211.30 530.02,211.29 529.68,211.27 529.26,211.24 528.73,211.23 528.08,211.25 527.30,211.30 526.36,211.37 525.29,211.44 524.09,211.54 522.79,211.69 521.42,211.91 520.00,212.22 518.54,212.68 517.01,213.29 515.42,213.96 513.73,214.64 511.93,215.24 510.00,215.70 508.00,216.00 505.96,216.20 503.81,216.32 501.48,216.41 498.90,216.49 496.00,216.60 492.69,216.73 489.00,216.84 485.06,216.95 481.00,217.06 476.94,217.18 473.00,217.30 469.17,217.44 465.33,217.58 461.50,217.73 457.67,217.88 453.83,218.02 450.00,218.16 446.15,218.29 442.27,218.43 438.39,218.56 434.54,218.68 430.73,218.79 427.00,218.90 423.47,219.01 420.16,219.12 416.89,219.23 413.51,219.32 409.83,219.35 405.70,219.32 400.92,219.21 395.58,219.02 389.96,218.79 384.31,218.54 378.90,218.30 374.00,218.10 369.66,217.94 365.69,217.80 361.96,217.67 358.34,217.54 354.73,217.42 351.00,217.30 347.11,217.18 343.15,217.08 339.19,216.98 335.30,216.87 331.54,216.74 328.00,216.60 324.62,216.44 321.33,216.27 318.19,216.09 315.22,215.89 312.48,215.66 310.00,215.40 307.87,215.08 306.07,214.70 304.50,214.30 303.04,213.90 301.57,213.52 300.00,213.20 298.26,212.93 296.44,212.69 294.62,212.48 292.89,212.30 291.32,212.14 290.00,212.00 288.97,211.89 288.19,211.82 287.56,211.77 287.04,211.74 286.54,211.72 286.00,211.70 285.41,211.68 284.81,211.68 284.25,211.68 283.74,211.69 283.31,211.70 283.00,211.70" fill="#90ff00"/>
<polygon points="283.00,197.90 283.20,197.90 283.36,197.90 283.61,197.90 284.06,197.90 284.82,197.90 286.00,197.90 287.88,197.90 290.43,197.90 293.29,197.90 296.10,197.90 298.53,197.90 300.20,197.90 300.80,205.40 301.13,205.40 301.41,205.40 301.82,205.40 302.56,205.40 303.79,205.40 305.70,205.40 308.47,205.38 311.99,205.34 316.00,205.29 320.26,205.27 324.51,205.30 328.50,205.40 332.26,205.58 336.00,205.84 339.74,206.14 343.47,206.47 347.22,206.80 351.00,207.10 354.70,207.37 358.31,207.64 361.93,207.90 365.67,208.17 369.66,208.47 374.00,208.81 378.89,209.23 384.28,209.75 389.91,210.29 395.53,210.78 400.88,211.17 405.70,211.39 409.92,211.41 413.74,211.27 417.29,211.03 420.70,210.72 424.13,210.40 427.70,210.11 431.39,209.84 435.09,209.55 438.79,209.23 442.50,208.92 446.24,208.61 450.00,208.31 453.79,208.03 457.61,207.76 461.46,207.49 465.31,207.22 469.16,206.96 473.00,206.70 476.94,206.43 481.00,206.14 485.06,205.85 489.00,205.58 492.69,205.36 496.00,205.20 498.98,205.11 501.74,205.09 504.26,205.11 506.49,205.14 508.41,205.18 510.00,205.20 511.16,205.20 511.90,205.20 512.33,205.20 512.56,205.20 512.71,205.20 512.90,205.20 513.50,197.90 515.13,197.90 517.48,197.90 520.21,197.90 522.99,197.90 525.47,197.90 527.30,197.90 528.46,197.90 529.21,197.90 529.66,197.90 529.92,197.90 530.10,197.90 530.30,197.90 530.30,209.50 530.08,209.48 529.87,209.44 529.57,209.41 529.10,209.39 528.37,209.41 527.30,209.50 525.87,209.67 524.14,209.90 522.15,210.18 519.94,210.47 517.55,210.75 515.00,211.00 512.27,211.22 509.31,211.42 506.17,211.61 502.88,211.80 499.48,212.00 496.00,212.20 492.40,212.41 488.63,212.62 484.75,212.83 480.81,213.04 476.88,213.27 473.00,213.50 469.17,213.75 465.33,214.01 461.50,214.28 457.67,214.55 453.83,214.82 450.00,215.06 446.15,215.30 442.27,215.54 438.39,215.78 434.54,215.99 430.73,216.19 427.00,216.35 423.47,216.50 420.16,216.64 416.89,216.76 413.51,216.84 409.83,216.87 405.70,216.82 400.92,216.68 395.58,216.46 389.96,216.19 384.31,215.88 378.90,215.59 374.00,215.33 369.66,215.09 365.69,214.87 361.96,214.64 358.34,214.43 354.73,214.21 351.00,214.00 347.17,213.79 343.33,213.59 339.50,213.39 335.67,213.19 331.83,212.99 328.00,212.80 324.07,212.62 320.04,212.46 316.00,212.29 312.07,212.12 308.37,211.93 305.00,211.70 301.91,211.41 299.00,211.07 296.31,210.70 293.89,210.34 291.77,210.03 290.00,209.80 288.69,209.65 287.81,209.57 287.25,209.53 286.85,209.52 286.48,209.51 286.00,209.50 285.41,209.48 284.81,209.48 284.25,209.48 283.74,209.49 283.31,209.50 283.00,209.50" fill="#ffff00"/>
<polygon points="300.00,205.00 301.57,205.04 303.70,205.07 306.25,205.12 309.07,205.20 312.04,205.32 315.00,205.50 318.28,205.77 322.04,206.13 325.94,206.53 329.63,206.93 332.77,207.27 335.00,207.50 335.00,207.50 332.77,207.51 329.63,207.52 325.94,207.53 322.04,207.54 318.28,207.53 315.00,207.50 312.04,207.44 309.07,207.35 306.25,207.25 303.70,207.15 301.57,207.06 300.00,207.00" fill="#ffcc00" opacity="0.5"/>
<linearGradient id="gl9" gradientUnits="userSpaceOnUse" x1="295.20" y1="0" x2="302.30" y2="0"><stop offset="0" stop-color="#ff4a00"/><stop offset="0.5" stop-color="#ff9a00"/><stop offset="1" stop-color="#ffd800"/></linearGradient>
<linearGradient id="gr9" gradientUnits="userSpaceOnUse" x1="517.40" y1="0" x2="511.00" y2="0"><stop offset="0" stop-color="#ff4a00"/><stop offset="0.5" stop-color="#ff9a00"/><stop offset="1" stop-color="#ffd800"/></linearGradient>
<polygon points="283.00,197.90 302.30,197.90 302.30,204.50 300.00,207.60 283.00,207.60" fill="url(#gl9)"/>
<polygon points="511.00,197.90 530.30,197.90 530.30,207.60 512.50,207.60 511.00,204.50" fill="url(#gr9)"/>
<polygon points="283.00,197.90 296.20,197.90 296.20,207.20 283.00,207.20" fill="#ff1a00"/>
<polygon points="516.40,197.90 530.30,197.90 530.30,207.20 516.40,207.20" fill="#ff1a00"/>
</g></g>
<rect x="286" y="230.00" width="241.30" height="1.0" fill="#3c8c3c" opacity="0.75"/>
<rect x="286" y="231.00" width="241.30" height="0.8" fill="#f0dcf0" opacity="0.6"/>
<rect x="286" y="200.90" width="241.30" height="0.9" fill="#000" opacity="0.14"/>
<rect x="286" y="200.00" width="241.30" height="0.9" fill="#f4e6f4" opacity="0.7"/>
<rect x="32.00" y="280" width="14.30" height="4" fill="#0a10e8"/>
<rect x="46.00" y="280" width="7.30" height="4" fill="#0050f2"/>
<rect x="53.00" y="280" width="7.30" height="4" fill="#0080f8"/>
<rect x="60.00" y="280" width="7.30" height="4" fill="#00a4fc"/>
<rect x="67.00" y="280" width="7.30" height="4" fill="#00c8fe"/>
<rect x="74.00" y="280" width="28.30" height="4" fill="#00ecfa"/>
<rect x="102.00" y="280" width="7.30" height="4" fill="#00f8c0"/>
<rect x="109.00" y="280" width="7.30" height="4" fill="#00f890"/>
<rect x="116.00" y="280" width="7.30" height="4" fill="#00f055"/>
<rect x="123.00" y="280" width="48.90" height="4" fill="#0aee0a"/>
<rect x="171.60" y="280" width="6.70" height="4" fill="#30ee00"/>
<rect x="178.00" y="280" width="7.30" height="4" fill="#98ee00"/>
<rect x="185.00" y="280" width="7.30" height="4" fill="#ccf200"/>
<rect x="192.00" y="280" width="21.30" height="4" fill="#f8f400"/>
<rect x="213.00" y="280" width="7.30" height="4" fill="#ffcc00"/>
<rect x="220.00" y="280" width="7.30" height="4" fill="#ffa200"/>
<rect x="227.00" y="280" width="7.30" height="4" fill="#ff7a00"/>
<rect x="234.00" y="280" width="7.30" height="4" fill="#ff5000"/>
<rect x="241.00" y="280" width="14.30" height="4" fill="#f41e00"/>
<rect x="297.00" y="280" width="14.16" height="4" fill="#0a10e8"/>
<rect x="310.86" y="280" width="7.23" height="4" fill="#0050f2"/>
<rect x="317.79" y="280" width="7.23" height="4" fill="#0080f8"/>
<rect x="324.72" y="280" width="7.23" height="4" fill="#00a4fc"/>
<rect x="331.65" y="280" width="7.23" height="4" fill="#00c8fe"/>
<rect x="338.59" y="280" width="28.02" height="4" fill="#00ecfa"/>
<rect x="366.31" y="280" width="7.23" height="4" fill="#00f8c0"/>
<rect x="373.24" y="280" width="7.23" height="4" fill="#00f890"/>
<rect x="380.17" y="280" width="7.23" height="4" fill="#00f055"/>
<rect x="387.10" y="280" width="48.42" height="4" fill="#0aee0a"/>
<rect x="435.22" y="280" width="6.64" height="4" fill="#30ee00"/>
<rect x="441.56" y="280" width="7.23" height="4" fill="#98ee00"/>
<rect x="448.49" y="280" width="7.23" height="4" fill="#ccf200"/>
<rect x="455.42" y="280" width="21.09" height="4" fill="#f8f400"/>
<rect x="476.21" y="280" width="7.23" height="4" fill="#ffcc00"/>
<rect x="483.15" y="280" width="7.23" height="4" fill="#ffa200"/>
<rect x="490.08" y="280" width="7.23" height="4" fill="#ff7a00"/>
<rect x="497.01" y="280" width="7.23" height="4" fill="#ff5000"/>
<rect x="503.94" y="280" width="14.16" height="4" fill="#f41e00"/>
<text x="143.3" y="57.0" class="lb" textLength="52.2" lengthAdjust="spacingAndGlyphs">C1 Y = 120 µm</text>
<text x="142.3" y="103.2" class="lb" textLength="51.6" lengthAdjust="spacingAndGlyphs">C2 Y = 800 µm</text>
<text x="144.5" y="149.7" class="lb" textLength="55.4" lengthAdjust="spacingAndGlyphs">C3 Y = 1600 µm</text>
<text x="145.3" y="198.6" class="lb" textLength="56.2" lengthAdjust="spacingAndGlyphs">C4 Y = 2400 µm</text>
<text x="144.2" y="245.9" class="lb" textLength="55.3" lengthAdjust="spacingAndGlyphs">C5 Y = 3000 µm</text>
<text x="406.3" y="57.6" class="lb" textLength="52.5" lengthAdjust="spacingAndGlyphs">C1 Y = 120 µm</text>
<text x="405.5" y="103.5" class="lb" textLength="51.3" lengthAdjust="spacingAndGlyphs">C2 Y = 800 µm</text>
<text x="407.5" y="149.7" class="lb" textLength="55.4" lengthAdjust="spacingAndGlyphs">C3 Y = 1600 µm</text>
<text x="408.3" y="198.5" class="lb" textLength="56.2" lengthAdjust="spacingAndGlyphs">C4 Y = 2400 µm</text>
<text x="407.2" y="245.3" class="lb" textLength="55.3" lengthAdjust="spacingAndGlyphs">C5 Y = 3000 µm</text>
<text x="144.8" y="261.0" class="ed" textLength="54.3" lengthAdjust="spacingAndGlyphs">eDensity(cm<tspan class="sup" dy="-2.8">-3</tspan><tspan dy="2.8">)</tspan></text>
<text x="407.8" y="261.0" class="ed" textLength="54.3" lengthAdjust="spacingAndGlyphs">eDensity(cm<tspan class="sup" dy="-2.8">-3</tspan><tspan dy="2.8">)</tspan></text>
<text x="25.90" y="276.0" class="cb" style="font-size:8.4px" textLength="41.7" lengthAdjust="spacingAndGlyphs">7.921<tspan class="x" dy="1.2">×</tspan><tspan dy="-1.2"> 10</tspan><tspan class="sup" dy="-2.8">-2</tspan></text>
<text x="76.50" y="276.7" class="cb" style="font-size:7.9px" textLength="39.6" lengthAdjust="spacingAndGlyphs">1.187<tspan class="x" dy="1.2">×</tspan><tspan dy="-1.2"> 10</tspan><tspan class="sup" dy="-2.8">2</tspan></text>
<text x="124.90" y="276.7" class="cb" style="font-size:7.9px" textLength="39.6" lengthAdjust="spacingAndGlyphs">1.780<tspan class="x" dy="1.2">×</tspan><tspan dy="-1.2"> 10</tspan><tspan class="sup" dy="-2.8">5</tspan></text>
<text x="173.50" y="276.7" class="cb" style="font-size:7.9px" textLength="39.9" lengthAdjust="spacingAndGlyphs">2.668<tspan class="x" dy="1.2">×</tspan><tspan dy="-1.2"> 10</tspan><tspan class="sup" dy="-2.8">8</tspan></text>
<text x="220.70" y="276.7" class="cb" style="font-size:7.9px" textLength="42.6" lengthAdjust="spacingAndGlyphs">4.000<tspan class="x" dy="1.2">×</tspan><tspan dy="-1.2"> 10</tspan><tspan class="sup" dy="-2.8">11</tspan></text>
<text x="288.90" y="276.0" class="cb" style="font-size:8.4px" textLength="41.7" lengthAdjust="spacingAndGlyphs">7.921<tspan class="x" dy="1.2">×</tspan><tspan dy="-1.2"> 10</tspan><tspan class="sup" dy="-2.8">-2</tspan></text>
<text x="339.50" y="276.7" class="cb" style="font-size:7.9px" textLength="39.6" lengthAdjust="spacingAndGlyphs">1.187<tspan class="x" dy="1.2">×</tspan><tspan dy="-1.2"> 10</tspan><tspan class="sup" dy="-2.8">2</tspan></text>
<text x="387.90" y="276.7" class="cb" style="font-size:7.9px" textLength="39.6" lengthAdjust="spacingAndGlyphs">1.780<tspan class="x" dy="1.2">×</tspan><tspan dy="-1.2"> 10</tspan><tspan class="sup" dy="-2.8">5</tspan></text>
<text x="436.50" y="276.7" class="cb" style="font-size:7.9px" textLength="39.9" lengthAdjust="spacingAndGlyphs">2.668<tspan class="x" dy="1.2">×</tspan><tspan dy="-1.2"> 10</tspan><tspan class="sup" dy="-2.8">8</tspan></text>
<text x="483.70" y="276.7" class="cb" style="font-size:7.9px" textLength="42.6" lengthAdjust="spacingAndGlyphs">4.000<tspan class="x" dy="1.2">×</tspan><tspan dy="-1.2"> 10</tspan><tspan class="sup" dy="-2.8">11</tspan></text>
<text x="132.2" y="316" class="ab">(<tspan font-weight="bold">a</tspan>)</text>
<text x="411.8" y="316" class="ab">(<tspan font-weight="bold">b</tspan>)</text>
</svg>
</body></html>
